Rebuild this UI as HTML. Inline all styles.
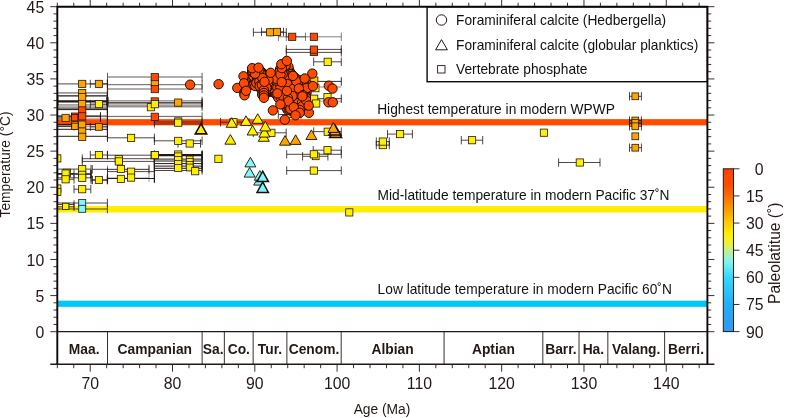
<!DOCTYPE html><html><head><meta charset="utf-8"><title>Cretaceous temperatures</title>
<style>html,body{margin:0;padding:0;background:#fff}body{width:785px;height:418px;overflow:hidden}svg{display:block}text{font-family:"Liberation Sans",Arial,Helvetica,sans-serif;fill:#231815}text.k{fill:#111}</style></head><body>
<svg width="785" height="418" viewBox="0 0 785 418">
<defs><linearGradient id="cb" x1="0" y1="0" x2="0" y2="1">
<stop offset="0.000" stop-color="#ff4500"/>
<stop offset="0.100" stop-color="#ff4a00"/>
<stop offset="0.167" stop-color="#f96c06"/>
<stop offset="0.250" stop-color="#fb9c00"/>
<stop offset="0.330" stop-color="#ffcc00"/>
<stop offset="0.400" stop-color="#fff000"/>
<stop offset="0.450" stop-color="#f0f030"/>
<stop offset="0.500" stop-color="#c4f08c"/>
<stop offset="0.570" stop-color="#80f4f0"/>
<stop offset="0.670" stop-color="#30d8ff"/>
<stop offset="0.830" stop-color="#20b0f8"/>
<stop offset="1.000" stop-color="#3098f8"/>
</linearGradient></defs>
<rect width="785" height="418" fill="#fff"/>
<g id="bands">
<rect x="57.3" y="119.15" width="650.1" height="6.2" fill="#ff4a00"/>
<rect x="57.3" y="206.10" width="650.1" height="6.4" fill="#ffee00"/>
<rect x="57.3" y="300.65" width="650.1" height="6.2" fill="#00c8f5"/>
</g>
<g id="data">
<clipPath id="pc"><rect x="57.30" y="6.70" width="650.10" height="325.00"/></clipPath>
<g clip-path="url(#pc)">
<path d="M57.3 83.9H107.4M57.3 79.7v8.4M107.4 79.7v8.4" stroke="#231815" stroke-width="0.80" fill="none"/>
<path d="M57.3 92.9H107.4M57.3 88.7v8.4M107.4 88.7v8.4" stroke="#231815" stroke-width="1.60" fill="none" stroke-opacity="0.45"/>
<path d="M57.3 95.9H107.4M57.3 91.7v8.4M107.4 91.7v8.4" stroke="#231815" stroke-width="1.10" fill="none"/>
<path d="M57.3 101.3H107.4M57.3 97.1v8.4M107.4 97.1v8.4" stroke="#231815" stroke-width="2.20" fill="none"/>
<path d="M57.3 104.7H107.4M57.3 100.5v8.4M107.4 100.5v8.4" stroke="#231815" stroke-width="0.80" fill="none" stroke-opacity="0.60"/>
<path d="M57.3 105.5H107.4M57.3 101.3v8.4M107.4 101.3v8.4" stroke="#231815" stroke-width="0.90" fill="none" stroke-opacity="0.25"/>
<path d="M57.3 106.3H107.4M57.3 102.1v8.4M107.4 102.1v8.4" stroke="#231815" stroke-width="0.90" fill="none" stroke-opacity="0.30"/>
<path d="M57.3 107.1H107.4M57.3 102.9v8.4M107.4 102.9v8.4" stroke="#231815" stroke-width="0.90" fill="none" stroke-opacity="0.40"/>
<path d="M57.3 107.9H107.4M57.3 103.7v8.4M107.4 103.7v8.4" stroke="#231815" stroke-width="0.90" fill="none" stroke-opacity="0.50"/>
<path d="M57.3 108.7H107.4M57.3 104.5v8.4M107.4 104.5v8.4" stroke="#231815" stroke-width="0.90" fill="none" stroke-opacity="0.70"/>
<path d="M57.3 109.6H107.4M57.3 105.4v8.4M107.4 105.4v8.4" stroke="#231815" stroke-width="1.00" fill="none"/>
<path d="M57.3 116.1H107.4M57.3 111.9v8.4M107.4 111.9v8.4" stroke="#231815" stroke-width="1.00" fill="none"/>
<path d="M57.3 118.2H107.4M57.3 114.0v8.4M107.4 114.0v8.4" stroke="#231815" stroke-width="0.80" fill="none" stroke-opacity="0.50"/>
<path d="M57.3 124.4H107.4M57.3 120.2v8.4M107.4 120.2v8.4" stroke="#231815" stroke-width="1.00" fill="none"/>
<path d="M57.3 126.7H107.4M57.3 122.5v8.4M107.4 122.5v8.4" stroke="#231815" stroke-width="0.80" fill="none" stroke-opacity="0.60"/>
<path d="M57.3 129.3H107.4M57.3 125.1v8.4M107.4 125.1v8.4" stroke="#231815" stroke-width="1.00" fill="none"/>
<path d="M57.3 136.3H107.4M57.3 132.1v8.4M107.4 132.1v8.4" stroke="#231815" stroke-width="1.00" fill="none"/>
<path d="M90.3 83.9H107.4M90.3 79.7v8.4M107.4 79.7v8.4" stroke="#231815" stroke-width="0.80" fill="none"/>
<path d="M90.3 104.1H107.4M90.3 99.9v8.4M107.4 99.9v8.4" stroke="#231815" stroke-width="0.80" fill="none"/>
<path d="M90.3 126.9H107.4M90.3 122.7v8.4M107.4 122.7v8.4" stroke="#231815" stroke-width="0.80" fill="none"/>
<path d="M90.3 155.0H107.4M90.3 150.8v8.4M107.4 150.8v8.4" stroke="#231815" stroke-width="0.80" fill="none"/>
<path d="M92.3 180.0H107.4M92.3 175.8v8.4M107.4 175.8v8.4" stroke="#231815" stroke-width="1.00" fill="none"/>
<path d="M91.0 180.0H107.4M91.0 175.8v8.4M107.4 175.8v8.4" stroke="#231815" stroke-width="0.70" fill="none"/>
<path d="M57.3 116.2H100.5M57.3 112.0v8.4M100.5 112.0v8.4" stroke="#231815" stroke-width="0.80" fill="none"/>
<path d="M100.4 117.7H100.5M100.4 113.5v8.4M100.5 113.5v8.4" stroke="#231815" stroke-width="0.80" fill="none"/>
<path d="M57.3 117.9H74.0M57.3 113.7v8.4M74.0 113.7v8.4" stroke="#231815" stroke-width="0.80" fill="none"/>
<path d="M57.3 125.0H74.0M57.3 120.8v8.4M74.0 120.8v8.4" stroke="#231815" stroke-width="0.80" fill="none"/>
<path d="M57.3 126.4H74.0M57.3 122.2v8.4M74.0 122.2v8.4" stroke="#231815" stroke-width="0.80" fill="none"/>
<path d="M82.3 158.7H154.4M82.3 154.5v8.4M154.4 154.5v8.4" stroke="#231815" stroke-width="0.80" fill="none"/>
<path d="M82.3 161.4H154.4M82.3 157.2v8.4M154.4 157.2v8.4" stroke="#231815" stroke-width="0.80" fill="none"/>
<path d="M57.3 174.0H91.0M57.3 169.8v8.4M91.0 169.8v8.4" stroke="#231815" stroke-width="1.60" fill="none"/>
<path d="M57.3 169.1H91.0M57.3 164.9v8.4M91.0 164.9v8.4" stroke="#231815" stroke-width="0.80" fill="none"/>
<path d="M57.3 177.8H91.0M57.3 173.6v8.4M91.0 173.6v8.4" stroke="#231815" stroke-width="0.80" fill="none"/>
<path d="M57.3 173.5H74.0M57.3 169.3v8.4M74.0 169.3v8.4" stroke="#231815" stroke-width="0.80" fill="none"/>
<path d="M57.3 179.3H74.0M57.3 175.1v8.4M74.0 175.1v8.4" stroke="#231815" stroke-width="0.80" fill="none"/>
<path d="M92.3 169.3H149.0M92.3 165.1v8.4M149.0 165.1v8.4" stroke="#231815" stroke-width="0.80" fill="none"/>
<path d="M74.0 189.2H90.8M74.0 185.0v8.4M90.8 185.0v8.4" stroke="#231815" stroke-width="0.80" fill="none"/>
<path d="M57.3 203.0H107.4M57.3 198.8v8.4M107.4 198.8v8.4" stroke="#231815" stroke-width="0.80" fill="none"/>
<path d="M57.3 209.0H107.4M57.3 204.8v8.4M107.4 204.8v8.4" stroke="#231815" stroke-width="0.80" fill="none"/>
<path d="M57.3 204.5H74.0M57.3 200.3v8.4M74.0 200.3v8.4" stroke="#231815" stroke-width="0.80" fill="none"/>
<path d="M57.3 206.8H74.0M57.3 202.6v8.4M74.0 202.6v8.4" stroke="#231815" stroke-width="0.80" fill="none"/>
<path d="M107.5 77.0H202.1M107.5 72.8v8.4M202.1 72.8v8.4" stroke="#231815" stroke-width="0.70" fill="none"/>
<path d="M107.5 84.7H202.1M107.5 80.5v8.4M202.1 80.5v8.4" stroke="#231815" stroke-width="0.70" fill="none"/>
<path d="M107.5 89.0H202.1M107.5 84.8v8.4M202.1 84.8v8.4" stroke="#231815" stroke-width="0.70" fill="none"/>
<path d="M107.5 100.9H202.1M107.5 96.7v8.4M202.1 96.7v8.4" stroke="#231815" stroke-width="0.70" fill="none"/>
<path d="M107.5 102.8H202.1M107.5 98.6v8.4M202.1 98.6v8.4" stroke="#231815" stroke-width="1.20" fill="none"/>
<path d="M107.5 105.1H202.1M107.5 100.9v8.4M202.1 100.9v8.4" stroke="#231815" stroke-width="0.70" fill="none"/>
<path d="M107.5 106.8H202.1M107.5 102.6v8.4M202.1 102.6v8.4" stroke="#231815" stroke-width="0.70" fill="none"/>
<path d="M107.5 116.4H202.1M107.5 112.2v8.4M202.1 112.2v8.4" stroke="#231815" stroke-width="0.70" fill="none"/>
<path d="M107.5 137.8H154.4M107.5 133.6v8.4M154.4 133.6v8.4" stroke="#231815" stroke-width="0.80" fill="none"/>
<path d="M154.4 121.3H202.1M154.4 117.1v8.4M202.1 117.1v8.4" stroke="#231815" stroke-width="0.60" fill="none" stroke-opacity="0.85"/>
<path d="M154.4 122.8H202.1M154.4 118.6v8.4M202.1 118.6v8.4" stroke="#231815" stroke-width="0.60" fill="none" stroke-opacity="0.85"/>
<path d="M154.4 124.1H202.1M154.4 119.9v8.4M202.1 119.9v8.4" stroke="#231815" stroke-width="0.60" fill="none" stroke-opacity="0.85"/>
<path d="M154.4 140.8H202.1M154.4 136.6v8.4M202.1 136.6v8.4" stroke="#231815" stroke-width="0.80" fill="none"/>
<path d="M178.0 143.5H200.5M178.0 139.3v8.4M200.5 139.3v8.4" stroke="#231815" stroke-width="0.80" fill="none"/>
<path d="M107.5 155.2H202.1M107.5 151.0v8.4M202.1 151.0v8.4" stroke="#231815" stroke-width="0.80" fill="none"/>
<path d="M154.4 154.6H202.1M154.4 150.4v8.4M202.1 150.4v8.4" stroke="#231815" stroke-width="1.20" fill="none"/>
<path d="M154.4 155.6H202.1M154.4 151.4v8.4M202.1 151.4v8.4" stroke="#231815" stroke-width="1.20" fill="none"/>
<path d="M154.4 159.1H202.1M154.4 154.9v8.4M202.1 154.9v8.4" stroke="#231815" stroke-width="1.00" fill="none"/>
<path d="M154.4 161.0H202.1M154.4 156.8v8.4M202.1 156.8v8.4" stroke="#231815" stroke-width="1.00" fill="none"/>
<path d="M154.4 163.6H202.1M154.4 159.4v8.4M202.1 159.4v8.4" stroke="#231815" stroke-width="1.00" fill="none"/>
<path d="M154.4 166.1H202.1M154.4 161.9v8.4M202.1 161.9v8.4" stroke="#231815" stroke-width="1.00" fill="none"/>
<path d="M154.4 168.3H202.1M154.4 164.1v8.4M202.1 164.1v8.4" stroke="#231815" stroke-width="1.00" fill="none"/>
<path d="M154.4 170.5H202.1M154.4 166.3v8.4M202.1 166.3v8.4" stroke="#231815" stroke-width="0.80" fill="none"/>
<path d="M107.5 171.6H154.4M107.5 167.4v8.4M154.4 167.4v8.4" stroke="#231815" stroke-width="0.80" fill="none"/>
<path d="M107.5 178.5H154.4M107.5 174.3v8.4M154.4 174.3v8.4" stroke="#231815" stroke-width="1.20" fill="none"/>
<path d="M107.5 178.0H149.0M107.5 173.8v8.4M149.0 173.8v8.4" stroke="#231815" stroke-width="0.70" fill="none" stroke-opacity="0.60"/>
<path d="M107.5 169.6H149.0M107.5 165.4v8.4M149.0 165.4v8.4" stroke="#231815" stroke-width="0.70" fill="none" stroke-opacity="0.60"/>
<rect x="78.6" y="80.3" width="7.2" height="7.2" fill="#ffa500" stroke="#231815" stroke-width="0.8"/>
<rect x="95.3" y="80.3" width="7.2" height="7.2" fill="#ffa500" stroke="#231815" stroke-width="0.8"/>
<rect x="78.6" y="89.5" width="7.2" height="7.2" fill="#ffa500" stroke="#231815" stroke-width="0.8"/>
<rect x="78.6" y="93.4" width="7.2" height="7.2" fill="#ffa500" stroke="#231815" stroke-width="0.8"/>
<rect x="78.6" y="100.3" width="7.2" height="7.2" fill="#ffa500" stroke="#231815" stroke-width="0.8"/>
<rect x="78.6" y="106.8" width="7.2" height="7.2" fill="#ff4a00" stroke="#231815" stroke-width="0.8"/>
<rect x="78.6" y="112.7" width="7.2" height="7.2" fill="#ff4a00" stroke="#231815" stroke-width="0.8"/>
<rect x="78.6" y="121.0" width="7.2" height="7.2" fill="#ffa500" stroke="#231815" stroke-width="0.8"/>
<rect x="78.6" y="127.9" width="7.2" height="7.2" fill="#ffa500" stroke="#231815" stroke-width="0.8"/>
<rect x="78.6" y="133.2" width="7.2" height="7.2" fill="#ffa500" stroke="#231815" stroke-width="0.8"/>
<rect x="95.3" y="100.5" width="7.2" height="7.2" fill="#fff000" stroke="#231815" stroke-width="0.8"/>
<rect x="95.5" y="123.5" width="6.8" height="6.8" fill="#ffa500" stroke="#231815" stroke-width="0.8"/>
<rect x="95.3" y="151.4" width="7.2" height="7.2" fill="#fff000" stroke="#231815" stroke-width="0.8"/>
<rect x="95.3" y="176.4" width="7.2" height="7.2" fill="#fff000" stroke="#231815" stroke-width="0.8"/>
<rect x="62.0" y="114.3" width="7.2" height="7.2" fill="#ffa500" stroke="#231815" stroke-width="0.8"/>
<rect x="71.5" y="113.0" width="6.4" height="6.4" fill="#ff4a00" stroke="#231815" stroke-width="0.8"/>
<rect x="71.5" y="114.5" width="6.4" height="6.4" fill="#ff4a00" stroke="#231815" stroke-width="0.8"/>
<rect x="71.7" y="121.7" width="6.4" height="6.4" fill="#ffa500" stroke="#231815" stroke-width="0.8"/>
<rect x="71.7" y="123.2" width="6.4" height="6.4" fill="#ffa500" stroke="#231815" stroke-width="0.8"/>
<rect x="53.7" y="154.8" width="7.2" height="7.2" fill="#fff000" stroke="#231815" stroke-width="0.8"/>
<rect x="78.6" y="165.5" width="7.2" height="7.2" fill="#fff000" stroke="#231815" stroke-width="0.8"/>
<rect x="78.6" y="171.2" width="7.2" height="7.2" fill="#fff000" stroke="#231815" stroke-width="0.8"/>
<rect x="78.6" y="174.2" width="7.2" height="7.2" fill="#fff000" stroke="#231815" stroke-width="0.8"/>
<rect x="63.4" y="169.2" width="7.2" height="7.2" fill="#fff000" stroke="#231815" stroke-width="0.8"/>
<rect x="62.0" y="169.9" width="7.2" height="7.2" fill="#fff000" stroke="#231815" stroke-width="0.8"/>
<rect x="62.0" y="175.7" width="7.2" height="7.2" fill="#fff000" stroke="#231815" stroke-width="0.8"/>
<rect x="78.6" y="185.6" width="7.2" height="7.2" fill="#fff000" stroke="#231815" stroke-width="0.8"/>
<rect x="53.7" y="184.9" width="7.2" height="7.2" fill="#fff000" stroke="#231815" stroke-width="0.8"/>
<rect x="53.7" y="188.4" width="7.2" height="7.2" fill="#fff000" stroke="#231815" stroke-width="0.8"/>
<rect x="78.7" y="199.4" width="7.0" height="7.0" fill="#7df9ff" stroke="#231815" stroke-width="0.8"/>
<rect x="78.7" y="205.3" width="7.0" height="7.0" fill="#7df9ff" stroke="#231815" stroke-width="0.8"/>
<rect x="62.7" y="203.4" width="6.0" height="6.0" fill="#fff000" stroke="#231815" stroke-width="0.8"/>
<rect x="62.5" y="203.2" width="6.4" height="6.4" fill="#fff000" stroke="#231815" stroke-width="0.8"/>
<rect x="151.2" y="79.4" width="7.2" height="7.2" fill="#ffa500" stroke="#231815" stroke-width="0.8"/>
<rect x="151.2" y="73.5" width="7.2" height="7.2" fill="#ff4a00" stroke="#231815" stroke-width="0.8"/>
<rect x="151.2" y="85.5" width="7.2" height="7.2" fill="#ff4a00" stroke="#231815" stroke-width="0.8"/>
<circle cx="190.1" cy="84.7" r="4.7" fill="#ff4a00" stroke="#1a0d08" stroke-width="1.0"/>
<rect x="151.2" y="97.8" width="7.2" height="7.2" fill="#ff4a00" stroke="#231815" stroke-width="0.8"/>
<rect x="147.3" y="103.6" width="7.2" height="7.2" fill="#fff000" stroke="#231815" stroke-width="0.8"/>
<rect x="151.2" y="100.6" width="7.2" height="7.2" fill="#fff000" stroke="#231815" stroke-width="0.8"/>
<rect x="174.6" y="99.0" width="7.2" height="7.2" fill="#ffa500" stroke="#231815" stroke-width="0.8"/>
<rect x="151.2" y="113.2" width="7.2" height="7.2" fill="#ff4a00" stroke="#231815" stroke-width="0.8"/>
<rect x="174.6" y="117.8" width="7.2" height="7.2" fill="#fff000" stroke="#231815" stroke-width="0.8"/>
<rect x="174.6" y="119.1" width="7.2" height="7.2" fill="#fff000" stroke="#231815" stroke-width="0.8"/>
<rect x="127.5" y="134.3" width="7.2" height="7.2" fill="#fff000" stroke="#231815" stroke-width="0.8"/>
<rect x="174.6" y="137.3" width="7.2" height="7.2" fill="#fff000" stroke="#231815" stroke-width="0.8"/>
<rect x="186.1" y="139.9" width="7.2" height="7.2" fill="#fff000" stroke="#231815" stroke-width="0.8"/>
<rect x="151.0" y="151.6" width="7.2" height="7.2" fill="#fff000" stroke="#231815" stroke-width="0.8"/>
<rect x="151.3" y="151.4" width="7.2" height="7.2" fill="#fff000" stroke="#231815" stroke-width="0.8"/>
<rect x="174.6" y="150.9" width="7.2" height="7.2" fill="#fff000" stroke="#231815" stroke-width="0.8"/>
<rect x="174.6" y="152.9" width="7.2" height="7.2" fill="#fff000" stroke="#231815" stroke-width="0.8"/>
<rect x="174.6" y="156.4" width="7.2" height="7.2" fill="#fff000" stroke="#231815" stroke-width="0.8"/>
<rect x="174.6" y="160.4" width="7.2" height="7.2" fill="#fff000" stroke="#231815" stroke-width="0.8"/>
<rect x="174.6" y="164.4" width="7.2" height="7.2" fill="#fff000" stroke="#231815" stroke-width="0.8"/>
<rect x="186.3" y="156.1" width="6.8" height="6.8" fill="#fff000" stroke="#231815" stroke-width="0.8"/>
<rect x="186.3" y="158.6" width="6.8" height="6.8" fill="#fff000" stroke="#231815" stroke-width="0.8"/>
<rect x="186.3" y="161.6" width="6.8" height="6.8" fill="#fff000" stroke="#231815" stroke-width="0.8"/>
<rect x="186.3" y="164.1" width="6.8" height="6.8" fill="#fff000" stroke="#231815" stroke-width="0.8"/>
<rect x="191.6" y="167.6" width="7.2" height="7.2" fill="#fff000" stroke="#231815" stroke-width="0.8"/>
<rect x="115.2" y="155.6" width="7.2" height="7.2" fill="#fff000" stroke="#231815" stroke-width="0.8"/>
<rect x="115.2" y="157.8" width="7.2" height="7.2" fill="#fff000" stroke="#231815" stroke-width="0.8"/>
<rect x="117.3" y="165.4" width="7.2" height="7.2" fill="#fff000" stroke="#231815" stroke-width="0.8"/>
<rect x="117.3" y="175.3" width="7.2" height="7.2" fill="#fff000" stroke="#231815" stroke-width="0.8"/>
<rect x="127.5" y="168.1" width="7.2" height="7.2" fill="#fff000" stroke="#231815" stroke-width="0.8"/>
<rect x="127.5" y="174.0" width="7.2" height="7.2" fill="#fff000" stroke="#231815" stroke-width="0.8"/>
<path d="M201.0 123.7L206.7 133.9H195.3Z" fill="#fff000" stroke="#1a0d08" stroke-width="1.6" stroke-linejoin="miter"/>
<path d="M220.5 122.2H249.0M220.5 118.0v8.4M249.0 118.0v8.4" stroke="#231815" stroke-width="0.80" fill="none"/>
<path d="M253.3 132.8H286.2M253.3 128.6v8.4M286.2 128.6v8.4" stroke="#231815" stroke-width="0.80" fill="none"/>
<path d="M253.4 32.3H286.3M253.4 28.1v8.4M286.3 28.1v8.4" stroke="#231815" stroke-width="0.80" fill="none"/>
<path d="M261.5 31.9H283.5M261.5 27.7v8.4M283.5 27.7v8.4" stroke="#231815" stroke-width="0.80" fill="none"/>
<path d="M270.5 32.1H280.0M270.5 27.9v8.4M280.0 27.9v8.4" stroke="#231815" stroke-width="0.80" fill="none"/>
<path d="M278.4 36.8H305.5M278.4 32.6v8.4M305.5 32.6v8.4" stroke="#231815" stroke-width="0.80" fill="none" stroke-opacity="0.70"/>
<path d="M286.3 36.8H341.3M286.3 32.6v8.4M341.3 32.6v8.4" stroke="#231815" stroke-width="0.80" fill="none" stroke-opacity="0.70"/>
<path d="M286.3 49.4H341.3M286.3 45.2v8.4M341.3 45.2v8.4" stroke="#231815" stroke-width="0.80" fill="none"/>
<path d="M286.3 52.4H341.3M286.3 48.2v8.4M341.3 48.2v8.4" stroke="#231815" stroke-width="0.80" fill="none"/>
<path d="M313.7 61.8H341.3M313.7 57.6v8.4M341.3 57.6v8.4" stroke="#231815" stroke-width="0.80" fill="none"/>
<path d="M300.0 81.4H341.3M300.0 77.2v8.4M341.3 77.2v8.4" stroke="#231815" stroke-width="0.90" fill="none"/>
<path d="M300.0 86.9H341.3" stroke="#231815" stroke-width="1.50" fill="none" stroke-opacity="0.35"/>
<path d="M300.0 98.7H341.3M300.0 94.5v8.4M341.3 94.5v8.4" stroke="#231815" stroke-width="0.90" fill="none"/>
<path d="M300.0 101.2H341.3" stroke="#231815" stroke-width="0.90" fill="none" stroke-opacity="0.40"/>
<path d="M278.3 114.5H301.0M278.3 110.3v8.4M301.0 110.3v8.4" stroke="#231815" stroke-width="0.80" fill="none"/>
<path d="M313.7 131.6H341.3M313.7 127.4v8.4M341.3 127.4v8.4" stroke="#231815" stroke-width="0.80" fill="none"/>
<path d="M313.2 150.2H341.3M313.2 146.0v8.4M341.3 146.0v8.4" stroke="#231815" stroke-width="0.80" fill="none"/>
<path d="M286.7 154.3H341.3M286.7 150.1v8.4M341.3 150.1v8.4" stroke="#231815" stroke-width="0.80" fill="none"/>
<path d="M302.6 156.3H327.9M302.6 152.1v8.4M327.9 152.1v8.4" stroke="#231815" stroke-width="0.80" fill="none"/>
<path d="M286.7 170.6H341.3M286.7 166.4v8.4M341.3 166.4v8.4" stroke="#231815" stroke-width="0.80" fill="none"/>
<path d="M387.5 134.1H412.4M387.5 129.9v8.4M412.4 129.9v8.4" stroke="#231815" stroke-width="0.80" fill="none"/>
<path d="M376.3 141.6H389.3M376.3 137.4v8.4M389.3 137.4v8.4" stroke="#231815" stroke-width="0.80" fill="none"/>
<path d="M376.3 145.1H389.3M376.3 140.9v8.4M389.3 140.9v8.4" stroke="#231815" stroke-width="0.80" fill="none"/>
<path d="M461.3 140.2H482.7M461.3 136.0v8.4M482.7 136.0v8.4" stroke="#231815" stroke-width="0.80" fill="none"/>
<path d="M558.6 162.5H600.0M558.6 158.3v8.4M600.0 158.3v8.4" stroke="#231815" stroke-width="0.80" fill="none"/>
<path d="M629.5 96.3H641.4M629.5 92.1v8.4M641.4 92.1v8.4" stroke="#231815" stroke-width="0.80" fill="none"/>
<path d="M629.5 120.5H641.4M629.5 116.3v8.4M641.4 116.3v8.4" stroke="#231815" stroke-width="0.80" fill="none"/>
<path d="M629.5 123.0H641.4M629.5 118.8v8.4M641.4 118.8v8.4" stroke="#231815" stroke-width="0.80" fill="none"/>
<path d="M629.5 126.3H641.4M629.5 122.1v8.4M641.4 122.1v8.4" stroke="#231815" stroke-width="0.80" fill="none"/>
<path d="M629.5 147.7H641.4M629.5 143.5v8.4M641.4 143.5v8.4" stroke="#231815" stroke-width="0.80" fill="none"/>
<rect x="214.8" y="155.2" width="7.2" height="7.2" fill="#fff000" stroke="#231815" stroke-width="0.8"/>
<rect x="229.8" y="118.6" width="7.2" height="7.2" fill="#fff000" stroke="#231815" stroke-width="0.8"/>
<rect x="267.8" y="129.2" width="7.2" height="7.2" fill="#fff000" stroke="#231815" stroke-width="0.8"/>
<rect x="266.6" y="28.7" width="7.2" height="7.2" fill="#ffa500" stroke="#231815" stroke-width="0.8"/>
<rect x="273.4" y="28.3" width="7.2" height="7.2" fill="#ffa500" stroke="#231815" stroke-width="0.8"/>
<rect x="288.6" y="33.2" width="7.2" height="7.2" fill="#ff4a00" stroke="#231815" stroke-width="0.8"/>
<rect x="310.3" y="33.2" width="7.2" height="7.2" fill="#ff4a00" stroke="#231815" stroke-width="0.8"/>
<rect x="310.3" y="48.4" width="7.2" height="7.2" fill="#ff4a00" stroke="#231815" stroke-width="0.8"/>
<rect x="310.3" y="46.0" width="7.2" height="7.2" fill="#ff4a00" stroke="#231815" stroke-width="0.8"/>
<rect x="324.1" y="58.2" width="7.2" height="7.2" fill="#fff000" stroke="#231815" stroke-width="0.8"/>
<rect x="310.7" y="77.0" width="7.2" height="7.2" fill="#ffc400" stroke="#231815" stroke-width="0.8"/>
<rect x="311.8" y="84.6" width="7.2" height="7.2" fill="#fff000" stroke="#231815" stroke-width="0.8"/>
<rect x="310.6" y="95.1" width="7.2" height="7.2" fill="#fff000" stroke="#231815" stroke-width="0.8"/>
<rect x="312.6" y="99.9" width="7.2" height="7.2" fill="#fff000" stroke="#231815" stroke-width="0.8"/>
<rect x="323.9" y="93.6" width="7.2" height="7.2" fill="#fff000" stroke="#231815" stroke-width="0.8"/>
<rect x="286.5" y="111.3" width="6.4" height="6.4" fill="#fff000" stroke="#231815" stroke-width="0.8"/>
<rect x="324.1" y="128.1" width="7.2" height="7.2" fill="#fff000" stroke="#231815" stroke-width="0.8"/>
<rect x="312.3" y="152.9" width="6.8" height="6.8" fill="#fff000" stroke="#231815" stroke-width="0.8"/>
<rect x="310.2" y="150.7" width="7.2" height="7.2" fill="#fff000" stroke="#231815" stroke-width="0.8"/>
<rect x="323.9" y="146.6" width="7.2" height="7.2" fill="#fff000" stroke="#231815" stroke-width="0.8"/>
<rect x="310.2" y="167.0" width="7.2" height="7.2" fill="#fff000" stroke="#231815" stroke-width="0.8"/>
<rect x="345.7" y="208.8" width="7.2" height="7.2" fill="#fff000" stroke="#231815" stroke-width="0.8"/>
<rect x="396.5" y="130.5" width="7.2" height="7.2" fill="#fff000" stroke="#231815" stroke-width="0.8"/>
<rect x="379.2" y="141.5" width="7.2" height="7.2" fill="#fff000" stroke="#231815" stroke-width="0.8"/>
<rect x="379.2" y="138.0" width="7.2" height="7.2" fill="#fff000" stroke="#231815" stroke-width="0.8"/>
<rect x="468.5" y="136.6" width="7.2" height="7.2" fill="#fff000" stroke="#231815" stroke-width="0.8"/>
<rect x="540.3" y="129.1" width="7.2" height="7.2" fill="#fff000" stroke="#231815" stroke-width="0.8"/>
<rect x="576.2" y="158.9" width="7.2" height="7.2" fill="#fff000" stroke="#231815" stroke-width="0.8"/>
<rect x="631.9" y="92.9" width="6.8" height="6.8" fill="#ffa500" stroke="#231815" stroke-width="0.8"/>
<rect x="631.9" y="117.1" width="6.8" height="6.8" fill="#ffa500" stroke="#231815" stroke-width="0.8"/>
<rect x="631.9" y="119.6" width="6.8" height="6.8" fill="#ffa500" stroke="#231815" stroke-width="0.8"/>
<rect x="631.9" y="122.9" width="6.8" height="6.8" fill="#ffa500" stroke="#231815" stroke-width="0.8"/>
<rect x="631.9" y="132.9" width="6.8" height="6.8" fill="#ffa500" stroke="#231815" stroke-width="0.8"/>
<rect x="631.9" y="144.3" width="6.8" height="6.8" fill="#ffa500" stroke="#231815" stroke-width="0.8"/>
<path d="M230.4 134.6L235.9 144.2H224.9Z" fill="#fff000" stroke="#1a0d08" stroke-width="0.9" stroke-linejoin="miter"/>
<path d="M231.7 117.7L237.2 127.3H226.2Z" fill="#fff000" stroke="#1a0d08" stroke-width="0.9" stroke-linejoin="miter"/>
<path d="M246.0 115.8L251.5 125.4H240.5Z" fill="#fff000" stroke="#1a0d08" stroke-width="0.9" stroke-linejoin="miter"/>
<path d="M257.7 113.7L263.2 123.3H252.2Z" fill="#fff000" stroke="#1a0d08" stroke-width="0.9" stroke-linejoin="miter"/>
<path d="M252.6 125.4L258.1 135.0H247.1Z" fill="#fff000" stroke="#1a0d08" stroke-width="0.9" stroke-linejoin="miter"/>
<path d="M263.8 131.7L269.3 141.3H258.3Z" fill="#fff000" stroke="#1a0d08" stroke-width="0.9" stroke-linejoin="miter"/>
<path d="M264.4 127.5L269.9 137.1H258.9Z" fill="#fff000" stroke="#1a0d08" stroke-width="0.9" stroke-linejoin="miter"/>
<path d="M265.3 121.3L270.8 130.9H259.8Z" fill="#fff000" stroke="#1a0d08" stroke-width="0.9" stroke-linejoin="miter"/>
<path d="M285.0 135.6L290.5 145.2H279.5Z" fill="#ffa500" stroke="#1a0d08" stroke-width="0.9" stroke-linejoin="miter"/>
<path d="M295.6 134.8L301.1 144.4H290.1Z" fill="#ffa500" stroke="#1a0d08" stroke-width="0.9" stroke-linejoin="miter"/>
<path d="M311.4 129.9L316.9 139.5H305.9Z" fill="#ffa500" stroke="#1a0d08" stroke-width="0.9" stroke-linejoin="miter"/>
<path d="M335.6 127.3L341.6 137.5H329.6Z" fill="#ffa500" stroke="#1a0d08" stroke-width="1.5" stroke-linejoin="miter"/>
<path d="M335.0 125.0L341.0 135.1H329.0Z" fill="#ffa500" stroke="#1a0d08" stroke-width="1.5" stroke-linejoin="miter"/>
<path d="M333.3 122.5L338.6 132.4H328.0Z" fill="#ffa500" stroke="#1a0d08" stroke-width="1.0" stroke-linejoin="miter"/>
<path d="M250.4 157.3L255.9 166.9H244.9Z" fill="#7df9ff" stroke="#1a0d08" stroke-width="0.9" stroke-linejoin="miter"/>
<path d="M249.6 167.5L255.1 177.1H244.1Z" fill="#7df9ff" stroke="#1a0d08" stroke-width="0.9" stroke-linejoin="miter"/>
<path d="M259.2 175.5L264.7 185.1H253.7Z" fill="#7df9ff" stroke="#1a0d08" stroke-width="0.9" stroke-linejoin="miter"/>
<path d="M259.8 170.6L265.3 180.2H254.3Z" fill="#7df9ff" stroke="#1a0d08" stroke-width="0.9" stroke-linejoin="miter"/>
<path d="M262.7 171.2L268.4 181.6H257.0Z" fill="#7df9ff" stroke="#1a0d08" stroke-width="1.5" stroke-linejoin="miter"/>
<path d="M262.7 182.0L268.4 192.4H257.0Z" fill="#7df9ff" stroke="#1a0d08" stroke-width="1.5" stroke-linejoin="miter"/>
<circle cx="218.6" cy="84.2" r="4.7" fill="#ff4a00" stroke="#1a0d08" stroke-width="1.0"/>
<circle cx="266.6" cy="79.7" r="4.7" fill="#ff4a00" stroke="#1a0d08" stroke-width="1.0"/>
<circle cx="288.2" cy="82.3" r="4.7" fill="#ff4a00" stroke="#1a0d08" stroke-width="1.0"/>
<circle cx="304.2" cy="102.2" r="4.7" fill="#ff4a00" stroke="#1a0d08" stroke-width="1.0"/>
<circle cx="256.4" cy="71.1" r="4.7" fill="#ff4a00" stroke="#1a0d08" stroke-width="1.0"/>
<circle cx="284.6" cy="93.9" r="4.7" fill="#ff4a00" stroke="#1a0d08" stroke-width="1.0"/>
<circle cx="290.0" cy="91.2" r="4.7" fill="#ff4a00" stroke="#1a0d08" stroke-width="1.0"/>
<circle cx="291.2" cy="87.3" r="4.7" fill="#ff4a00" stroke="#1a0d08" stroke-width="1.0"/>
<circle cx="279.4" cy="74.5" r="4.7" fill="#ff4a00" stroke="#1a0d08" stroke-width="1.0"/>
<circle cx="290.7" cy="104.1" r="4.7" fill="#ff4a00" stroke="#1a0d08" stroke-width="1.0"/>
<circle cx="289.0" cy="80.5" r="4.7" fill="#ff4a00" stroke="#1a0d08" stroke-width="1.0"/>
<circle cx="293.8" cy="80.3" r="4.7" fill="#ff4a00" stroke="#1a0d08" stroke-width="1.0"/>
<circle cx="301.8" cy="92.5" r="4.7" fill="#ff4a00" stroke="#1a0d08" stroke-width="1.0"/>
<circle cx="294.0" cy="103.6" r="4.7" fill="#ff4a00" stroke="#1a0d08" stroke-width="1.0"/>
<circle cx="301.6" cy="87.2" r="4.7" fill="#ff4a00" stroke="#1a0d08" stroke-width="1.0"/>
<circle cx="278.6" cy="86.6" r="4.7" fill="#ff4a00" stroke="#1a0d08" stroke-width="1.0"/>
<circle cx="286.3" cy="96.8" r="4.7" fill="#ff4a00" stroke="#1a0d08" stroke-width="1.0"/>
<circle cx="291.1" cy="78.3" r="4.7" fill="#ff4a00" stroke="#1a0d08" stroke-width="1.0"/>
<circle cx="287.6" cy="99.7" r="4.7" fill="#ff4a00" stroke="#1a0d08" stroke-width="1.0"/>
<circle cx="256.9" cy="74.8" r="4.7" fill="#ff4a00" stroke="#1a0d08" stroke-width="1.0"/>
<circle cx="287.7" cy="93.7" r="4.7" fill="#ff4a00" stroke="#1a0d08" stroke-width="1.0"/>
<circle cx="292.2" cy="104.4" r="4.7" fill="#ff4a00" stroke="#1a0d08" stroke-width="1.0"/>
<circle cx="290.8" cy="83.5" r="4.7" fill="#ff4a00" stroke="#1a0d08" stroke-width="1.0"/>
<circle cx="283.9" cy="74.8" r="4.7" fill="#ff4a00" stroke="#1a0d08" stroke-width="1.0"/>
<circle cx="301.5" cy="81.9" r="4.7" fill="#ff4a00" stroke="#1a0d08" stroke-width="1.0"/>
<circle cx="280.2" cy="93.1" r="4.7" fill="#ff4a00" stroke="#1a0d08" stroke-width="1.0"/>
<circle cx="294.4" cy="99.6" r="4.7" fill="#ff4a00" stroke="#1a0d08" stroke-width="1.0"/>
<circle cx="263.9" cy="77.2" r="4.7" fill="#ff4a00" stroke="#1a0d08" stroke-width="1.0"/>
<circle cx="297.8" cy="113.0" r="4.7" fill="#ff4a00" stroke="#1a0d08" stroke-width="1.0"/>
<circle cx="281.6" cy="98.7" r="4.7" fill="#ff4a00" stroke="#1a0d08" stroke-width="1.0"/>
<circle cx="291.5" cy="81.2" r="4.7" fill="#ff4a00" stroke="#1a0d08" stroke-width="1.0"/>
<circle cx="256.3" cy="73.4" r="4.7" fill="#ff4a00" stroke="#1a0d08" stroke-width="1.0"/>
<circle cx="291.2" cy="99.7" r="4.7" fill="#ff4a00" stroke="#1a0d08" stroke-width="1.0"/>
<circle cx="305.7" cy="105.6" r="4.7" fill="#ff4a00" stroke="#1a0d08" stroke-width="1.0"/>
<circle cx="297.5" cy="95.3" r="4.7" fill="#ff4a00" stroke="#1a0d08" stroke-width="1.0"/>
<circle cx="303.9" cy="95.7" r="4.7" fill="#ff4a00" stroke="#1a0d08" stroke-width="1.0"/>
<circle cx="294.5" cy="105.4" r="4.7" fill="#ff4a00" stroke="#1a0d08" stroke-width="1.0"/>
<circle cx="300.4" cy="91.2" r="4.7" fill="#ff4a00" stroke="#1a0d08" stroke-width="1.0"/>
<circle cx="257.7" cy="76.1" r="4.7" fill="#ff4a00" stroke="#1a0d08" stroke-width="1.0"/>
<circle cx="262.9" cy="94.7" r="4.7" fill="#ff4a00" stroke="#1a0d08" stroke-width="1.0"/>
<circle cx="292.3" cy="93.2" r="4.7" fill="#ff4a00" stroke="#1a0d08" stroke-width="1.0"/>
<circle cx="282.0" cy="80.9" r="4.7" fill="#ff4a00" stroke="#1a0d08" stroke-width="1.0"/>
<circle cx="284.5" cy="74.6" r="4.7" fill="#ff4a00" stroke="#1a0d08" stroke-width="1.0"/>
<circle cx="255.5" cy="75.8" r="4.7" fill="#ff4a00" stroke="#1a0d08" stroke-width="1.0"/>
<circle cx="258.3" cy="74.7" r="4.7" fill="#ff4a00" stroke="#1a0d08" stroke-width="1.0"/>
<circle cx="285.1" cy="105.9" r="4.7" fill="#ff4a00" stroke="#1a0d08" stroke-width="1.0"/>
<circle cx="282.0" cy="79.3" r="4.7" fill="#ff4a00" stroke="#1a0d08" stroke-width="1.0"/>
<circle cx="297.9" cy="99.2" r="4.7" fill="#ff4a00" stroke="#1a0d08" stroke-width="1.0"/>
<circle cx="293.4" cy="90.2" r="4.7" fill="#ff4a00" stroke="#1a0d08" stroke-width="1.0"/>
<circle cx="285.1" cy="72.2" r="4.7" fill="#ff4a00" stroke="#1a0d08" stroke-width="1.0"/>
<circle cx="292.2" cy="97.7" r="4.7" fill="#ff4a00" stroke="#1a0d08" stroke-width="1.0"/>
<circle cx="269.3" cy="83.8" r="4.7" fill="#ff4a00" stroke="#1a0d08" stroke-width="1.0"/>
<circle cx="292.5" cy="85.7" r="4.7" fill="#ff4a00" stroke="#1a0d08" stroke-width="1.0"/>
<circle cx="296.5" cy="100.3" r="4.7" fill="#ff4a00" stroke="#1a0d08" stroke-width="1.0"/>
<circle cx="273.5" cy="85.6" r="4.7" fill="#ff4a00" stroke="#1a0d08" stroke-width="1.0"/>
<circle cx="289.0" cy="108.2" r="4.7" fill="#ff4a00" stroke="#1a0d08" stroke-width="1.0"/>
<circle cx="296.5" cy="85.6" r="4.7" fill="#ff4a00" stroke="#1a0d08" stroke-width="1.0"/>
<circle cx="279.5" cy="81.4" r="4.7" fill="#ff4a00" stroke="#1a0d08" stroke-width="1.0"/>
<circle cx="259.4" cy="84.6" r="4.7" fill="#ff4a00" stroke="#1a0d08" stroke-width="1.0"/>
<circle cx="272.7" cy="88.6" r="4.7" fill="#ff4a00" stroke="#1a0d08" stroke-width="1.0"/>
<circle cx="261.4" cy="84.6" r="4.7" fill="#ff4a00" stroke="#1a0d08" stroke-width="1.0"/>
<circle cx="297.9" cy="100.8" r="4.7" fill="#ff4a00" stroke="#1a0d08" stroke-width="1.0"/>
<circle cx="265.9" cy="85.0" r="4.7" fill="#ff4a00" stroke="#1a0d08" stroke-width="1.0"/>
<circle cx="258.4" cy="68.8" r="4.7" fill="#ff4a00" stroke="#1a0d08" stroke-width="1.0"/>
<circle cx="260.4" cy="86.1" r="4.7" fill="#ff4a00" stroke="#1a0d08" stroke-width="1.0"/>
<circle cx="292.1" cy="107.4" r="4.7" fill="#ff4a00" stroke="#1a0d08" stroke-width="1.0"/>
<circle cx="284.4" cy="80.8" r="4.7" fill="#ff4a00" stroke="#1a0d08" stroke-width="1.0"/>
<circle cx="278.6" cy="87.9" r="4.7" fill="#ff4a00" stroke="#1a0d08" stroke-width="1.0"/>
<circle cx="295.9" cy="104.8" r="4.7" fill="#ff4a00" stroke="#1a0d08" stroke-width="1.0"/>
<circle cx="260.8" cy="82.9" r="4.7" fill="#ff4a00" stroke="#1a0d08" stroke-width="1.0"/>
<circle cx="259.1" cy="82.6" r="4.7" fill="#ff4a00" stroke="#1a0d08" stroke-width="1.0"/>
<circle cx="287.6" cy="108.3" r="4.7" fill="#ff4a00" stroke="#1a0d08" stroke-width="1.0"/>
<circle cx="262.0" cy="79.7" r="4.7" fill="#ff4a00" stroke="#1a0d08" stroke-width="1.0"/>
<circle cx="276.6" cy="89.2" r="4.7" fill="#ff4a00" stroke="#1a0d08" stroke-width="1.0"/>
<circle cx="261.1" cy="71.7" r="4.7" fill="#ff4a00" stroke="#1a0d08" stroke-width="1.0"/>
<circle cx="278.6" cy="83.1" r="4.7" fill="#ff4a00" stroke="#1a0d08" stroke-width="1.0"/>
<circle cx="287.7" cy="103.4" r="4.7" fill="#ff4a00" stroke="#1a0d08" stroke-width="1.0"/>
<circle cx="294.6" cy="77.5" r="4.7" fill="#ff4a00" stroke="#1a0d08" stroke-width="1.0"/>
<circle cx="263.5" cy="87.2" r="4.7" fill="#ff4a00" stroke="#1a0d08" stroke-width="1.0"/>
<circle cx="286.1" cy="80.0" r="4.7" fill="#ff4a00" stroke="#1a0d08" stroke-width="1.0"/>
<circle cx="284.7" cy="82.1" r="4.7" fill="#ff4a00" stroke="#1a0d08" stroke-width="1.0"/>
<circle cx="252.4" cy="74.2" r="4.7" fill="#ff4a00" stroke="#1a0d08" stroke-width="1.0"/>
<circle cx="293.5" cy="94.8" r="4.7" fill="#ff4a00" stroke="#1a0d08" stroke-width="1.0"/>
<circle cx="291.2" cy="110.9" r="4.7" fill="#ff4a00" stroke="#1a0d08" stroke-width="1.0"/>
<circle cx="270.9" cy="91.8" r="4.7" fill="#ff4a00" stroke="#1a0d08" stroke-width="1.0"/>
<circle cx="276.9" cy="84.7" r="4.7" fill="#ff4a00" stroke="#1a0d08" stroke-width="1.0"/>
<circle cx="295.4" cy="92.1" r="4.7" fill="#ff4a00" stroke="#1a0d08" stroke-width="1.0"/>
<circle cx="292.9" cy="83.2" r="4.7" fill="#ff4a00" stroke="#1a0d08" stroke-width="1.0"/>
<circle cx="269.1" cy="77.2" r="4.7" fill="#ff4a00" stroke="#1a0d08" stroke-width="1.0"/>
<circle cx="289.4" cy="89.2" r="4.7" fill="#ff4a00" stroke="#1a0d08" stroke-width="1.0"/>
<circle cx="299.7" cy="80.4" r="4.7" fill="#ff4a00" stroke="#1a0d08" stroke-width="1.0"/>
<circle cx="299.6" cy="82.0" r="4.7" fill="#ff4a00" stroke="#1a0d08" stroke-width="1.0"/>
<circle cx="285.0" cy="89.1" r="4.7" fill="#ff4a00" stroke="#1a0d08" stroke-width="1.0"/>
<circle cx="269.1" cy="90.4" r="4.7" fill="#ff4a00" stroke="#1a0d08" stroke-width="1.0"/>
<circle cx="274.8" cy="82.6" r="4.7" fill="#ff4a00" stroke="#1a0d08" stroke-width="1.0"/>
<circle cx="306.6" cy="92.5" r="4.7" fill="#ff4a00" stroke="#1a0d08" stroke-width="1.0"/>
<circle cx="285.2" cy="69.6" r="4.7" fill="#ff4a00" stroke="#1a0d08" stroke-width="1.0"/>
<circle cx="289.5" cy="83.7" r="4.7" fill="#ff4a00" stroke="#1a0d08" stroke-width="1.0"/>
<circle cx="265.6" cy="78.5" r="4.7" fill="#ff4a00" stroke="#1a0d08" stroke-width="1.0"/>
<circle cx="282.2" cy="91.3" r="4.7" fill="#ff4a00" stroke="#1a0d08" stroke-width="1.0"/>
<circle cx="252.5" cy="76.8" r="4.7" fill="#ff4a00" stroke="#1a0d08" stroke-width="1.0"/>
<circle cx="283.9" cy="94.5" r="4.7" fill="#ff4a00" stroke="#1a0d08" stroke-width="1.0"/>
<circle cx="264.2" cy="89.1" r="4.7" fill="#ff4a00" stroke="#1a0d08" stroke-width="1.0"/>
<circle cx="281.8" cy="76.1" r="4.7" fill="#ff4a00" stroke="#1a0d08" stroke-width="1.0"/>
<circle cx="280.1" cy="69.1" r="4.7" fill="#ff4a00" stroke="#1a0d08" stroke-width="1.0"/>
<circle cx="278.7" cy="92.2" r="4.7" fill="#ff4a00" stroke="#1a0d08" stroke-width="1.0"/>
<circle cx="301.6" cy="91.2" r="4.7" fill="#ff4a00" stroke="#1a0d08" stroke-width="1.0"/>
<circle cx="297.8" cy="110.8" r="4.7" fill="#ff4a00" stroke="#1a0d08" stroke-width="1.0"/>
<circle cx="282.0" cy="66.6" r="4.7" fill="#ff4a00" stroke="#1a0d08" stroke-width="1.0"/>
<circle cx="268.0" cy="83.0" r="4.7" fill="#ff4a00" stroke="#1a0d08" stroke-width="1.0"/>
<circle cx="293.8" cy="91.9" r="4.7" fill="#ff4a00" stroke="#1a0d08" stroke-width="1.0"/>
<circle cx="278.8" cy="89.6" r="4.7" fill="#ff4a00" stroke="#1a0d08" stroke-width="1.0"/>
<circle cx="265.7" cy="89.3" r="4.7" fill="#ff4a00" stroke="#1a0d08" stroke-width="1.0"/>
<circle cx="286.0" cy="100.1" r="4.7" fill="#ff4a00" stroke="#1a0d08" stroke-width="1.0"/>
<circle cx="255.3" cy="83.3" r="4.7" fill="#ff4a00" stroke="#1a0d08" stroke-width="1.0"/>
<circle cx="298.6" cy="90.8" r="4.7" fill="#ff4a00" stroke="#1a0d08" stroke-width="1.0"/>
<circle cx="285.0" cy="98.1" r="4.7" fill="#ff4a00" stroke="#1a0d08" stroke-width="1.0"/>
<circle cx="290.0" cy="97.7" r="4.7" fill="#ff4a00" stroke="#1a0d08" stroke-width="1.0"/>
<circle cx="266.0" cy="82.1" r="4.7" fill="#ff4a00" stroke="#1a0d08" stroke-width="1.0"/>
<circle cx="292.2" cy="90.6" r="4.7" fill="#ff4a00" stroke="#1a0d08" stroke-width="1.0"/>
<circle cx="267.5" cy="92.0" r="4.7" fill="#ff4a00" stroke="#1a0d08" stroke-width="1.0"/>
<circle cx="263.6" cy="92.1" r="4.7" fill="#ff4a00" stroke="#1a0d08" stroke-width="1.0"/>
<circle cx="289.9" cy="86.0" r="4.7" fill="#ff4a00" stroke="#1a0d08" stroke-width="1.0"/>
<circle cx="285.6" cy="100.8" r="4.7" fill="#ff4a00" stroke="#1a0d08" stroke-width="1.0"/>
<circle cx="287.0" cy="69.6" r="4.7" fill="#ff4a00" stroke="#1a0d08" stroke-width="1.0"/>
<circle cx="288.1" cy="74.8" r="4.7" fill="#ff4a00" stroke="#1a0d08" stroke-width="1.0"/>
<circle cx="292.2" cy="78.4" r="4.7" fill="#ff4a00" stroke="#1a0d08" stroke-width="1.0"/>
<circle cx="283.1" cy="69.9" r="4.7" fill="#ff4a00" stroke="#1a0d08" stroke-width="1.0"/>
<circle cx="257.1" cy="70.1" r="4.7" fill="#ff4a00" stroke="#1a0d08" stroke-width="1.0"/>
<circle cx="254.2" cy="70.3" r="4.7" fill="#ff4a00" stroke="#1a0d08" stroke-width="1.0"/>
<circle cx="297.5" cy="84.6" r="4.7" fill="#ff4a00" stroke="#1a0d08" stroke-width="1.0"/>
<circle cx="305.5" cy="94.6" r="4.7" fill="#ff4a00" stroke="#1a0d08" stroke-width="1.0"/>
<circle cx="283.6" cy="77.4" r="4.7" fill="#ff4a00" stroke="#1a0d08" stroke-width="1.0"/>
<circle cx="263.9" cy="79.2" r="4.7" fill="#ff4a00" stroke="#1a0d08" stroke-width="1.0"/>
<circle cx="288.9" cy="95.2" r="4.7" fill="#ff4a00" stroke="#1a0d08" stroke-width="1.0"/>
<circle cx="287.6" cy="86.9" r="4.7" fill="#ff4a00" stroke="#1a0d08" stroke-width="1.0"/>
<circle cx="256.7" cy="69.3" r="4.7" fill="#ff4a00" stroke="#1a0d08" stroke-width="1.0"/>
<circle cx="272.9" cy="91.5" r="4.7" fill="#ff4a00" stroke="#1a0d08" stroke-width="1.0"/>
<circle cx="253.1" cy="83.8" r="4.7" fill="#ff4a00" stroke="#1a0d08" stroke-width="1.0"/>
<circle cx="257.4" cy="73.3" r="4.7" fill="#ff4a00" stroke="#1a0d08" stroke-width="1.0"/>
<circle cx="303.8" cy="87.1" r="4.7" fill="#ff4a00" stroke="#1a0d08" stroke-width="1.0"/>
<circle cx="304.3" cy="88.6" r="4.7" fill="#ff4a00" stroke="#1a0d08" stroke-width="1.0"/>
<circle cx="264.5" cy="84.6" r="4.7" fill="#ff4a00" stroke="#1a0d08" stroke-width="1.0"/>
<circle cx="287.5" cy="77.3" r="4.7" fill="#ff4a00" stroke="#1a0d08" stroke-width="1.0"/>
<circle cx="262.5" cy="81.2" r="4.7" fill="#ff4a00" stroke="#1a0d08" stroke-width="1.0"/>
<circle cx="282.1" cy="72.7" r="4.7" fill="#ff4a00" stroke="#1a0d08" stroke-width="1.0"/>
<circle cx="278.7" cy="85.2" r="4.7" fill="#ff4a00" stroke="#1a0d08" stroke-width="1.0"/>
<circle cx="283.8" cy="103.8" r="4.7" fill="#ff4a00" stroke="#1a0d08" stroke-width="1.0"/>
<circle cx="305.6" cy="89.6" r="4.7" fill="#ff4a00" stroke="#1a0d08" stroke-width="1.0"/>
<circle cx="286.2" cy="72.1" r="4.7" fill="#ff4a00" stroke="#1a0d08" stroke-width="1.0"/>
<circle cx="274.8" cy="84.2" r="4.7" fill="#ff4a00" stroke="#1a0d08" stroke-width="1.0"/>
<circle cx="300.0" cy="89.6" r="4.7" fill="#ff4a00" stroke="#1a0d08" stroke-width="1.0"/>
<circle cx="282.6" cy="69.7" r="4.7" fill="#ff4a00" stroke="#1a0d08" stroke-width="1.0"/>
<circle cx="264.6" cy="78.4" r="4.7" fill="#ff4a00" stroke="#1a0d08" stroke-width="1.0"/>
<circle cx="259.3" cy="83.4" r="4.7" fill="#ff4a00" stroke="#1a0d08" stroke-width="1.0"/>
<circle cx="274.8" cy="90.1" r="4.7" fill="#ff4a00" stroke="#1a0d08" stroke-width="1.0"/>
<circle cx="293.9" cy="102.3" r="4.7" fill="#ff4a00" stroke="#1a0d08" stroke-width="1.0"/>
<circle cx="293.4" cy="109.8" r="4.7" fill="#ff4a00" stroke="#1a0d08" stroke-width="1.0"/>
<circle cx="295.7" cy="98.2" r="4.7" fill="#ff4a00" stroke="#1a0d08" stroke-width="1.0"/>
<circle cx="262.5" cy="93.2" r="4.7" fill="#ff4a00" stroke="#1a0d08" stroke-width="1.0"/>
<circle cx="287.8" cy="96.0" r="4.7" fill="#ff4a00" stroke="#1a0d08" stroke-width="1.0"/>
<circle cx="301.8" cy="85.8" r="4.7" fill="#ff4a00" stroke="#1a0d08" stroke-width="1.0"/>
<circle cx="283.7" cy="99.2" r="4.7" fill="#ff4a00" stroke="#1a0d08" stroke-width="1.0"/>
<circle cx="289.6" cy="99.7" r="4.7" fill="#ff4a00" stroke="#1a0d08" stroke-width="1.0"/>
<circle cx="257.9" cy="83.0" r="4.7" fill="#ff4a00" stroke="#1a0d08" stroke-width="1.0"/>
<circle cx="300.6" cy="103.8" r="4.7" fill="#ff4a00" stroke="#1a0d08" stroke-width="1.0"/>
<circle cx="288.6" cy="106.2" r="4.7" fill="#ff4a00" stroke="#1a0d08" stroke-width="1.0"/>
<circle cx="303.4" cy="100.0" r="4.7" fill="#ff4a00" stroke="#1a0d08" stroke-width="1.0"/>
<circle cx="260.1" cy="72.7" r="4.7" fill="#ff4a00" stroke="#1a0d08" stroke-width="1.0"/>
<circle cx="288.5" cy="71.9" r="4.7" fill="#ff4a00" stroke="#1a0d08" stroke-width="1.0"/>
<circle cx="262.8" cy="75.2" r="4.7" fill="#ff4a00" stroke="#1a0d08" stroke-width="1.0"/>
<circle cx="278.4" cy="96.1" r="4.7" fill="#ff4a00" stroke="#1a0d08" stroke-width="1.0"/>
<circle cx="271.0" cy="78.0" r="4.7" fill="#ff4a00" stroke="#1a0d08" stroke-width="1.0"/>
<circle cx="280.2" cy="99.8" r="4.7" fill="#ff4a00" stroke="#1a0d08" stroke-width="1.0"/>
<circle cx="283.1" cy="84.0" r="4.7" fill="#ff4a00" stroke="#1a0d08" stroke-width="1.0"/>
<circle cx="277.1" cy="92.0" r="4.7" fill="#ff4a00" stroke="#1a0d08" stroke-width="1.0"/>
<circle cx="301.5" cy="100.6" r="4.7" fill="#ff4a00" stroke="#1a0d08" stroke-width="1.0"/>
<circle cx="295.8" cy="83.9" r="4.7" fill="#ff4a00" stroke="#1a0d08" stroke-width="1.0"/>
<circle cx="304.0" cy="98.5" r="4.7" fill="#ff4a00" stroke="#1a0d08" stroke-width="1.0"/>
<circle cx="278.6" cy="94.3" r="4.7" fill="#ff4a00" stroke="#1a0d08" stroke-width="1.0"/>
<circle cx="262.8" cy="73.1" r="4.7" fill="#ff4a00" stroke="#1a0d08" stroke-width="1.0"/>
<circle cx="256.6" cy="75.4" r="4.7" fill="#ff4a00" stroke="#1a0d08" stroke-width="1.0"/>
<circle cx="254.4" cy="69.0" r="4.7" fill="#ff4a00" stroke="#1a0d08" stroke-width="1.0"/>
<circle cx="288.4" cy="69.5" r="4.7" fill="#ff4a00" stroke="#1a0d08" stroke-width="1.0"/>
<circle cx="259.3" cy="80.1" r="4.7" fill="#ff4a00" stroke="#1a0d08" stroke-width="1.0"/>
<circle cx="296.4" cy="108.4" r="4.7" fill="#ff4a00" stroke="#1a0d08" stroke-width="1.0"/>
<circle cx="283.7" cy="90.8" r="4.7" fill="#ff4a00" stroke="#1a0d08" stroke-width="1.0"/>
<circle cx="259.7" cy="77.4" r="4.7" fill="#ff4a00" stroke="#1a0d08" stroke-width="1.0"/>
<circle cx="281.7" cy="86.5" r="4.7" fill="#ff4a00" stroke="#1a0d08" stroke-width="1.0"/>
<circle cx="268.0" cy="77.0" r="4.7" fill="#ff4a00" stroke="#1a0d08" stroke-width="1.0"/>
<circle cx="301.6" cy="94.9" r="4.7" fill="#ff4a00" stroke="#1a0d08" stroke-width="1.0"/>
<circle cx="280.0" cy="89.2" r="4.7" fill="#ff4a00" stroke="#1a0d08" stroke-width="1.0"/>
<circle cx="297.8" cy="80.2" r="4.7" fill="#ff4a00" stroke="#1a0d08" stroke-width="1.0"/>
<circle cx="267.5" cy="85.1" r="4.7" fill="#ff4a00" stroke="#1a0d08" stroke-width="1.0"/>
<circle cx="303.4" cy="90.2" r="4.7" fill="#ff4a00" stroke="#1a0d08" stroke-width="1.0"/>
<circle cx="305.6" cy="103.0" r="4.7" fill="#ff4a00" stroke="#1a0d08" stroke-width="1.0"/>
<circle cx="264.9" cy="75.8" r="4.7" fill="#ff4a00" stroke="#1a0d08" stroke-width="1.0"/>
<circle cx="304.4" cy="84.1" r="4.7" fill="#ff4a00" stroke="#1a0d08" stroke-width="1.0"/>
<circle cx="271.5" cy="87.7" r="4.7" fill="#ff4a00" stroke="#1a0d08" stroke-width="1.0"/>
<circle cx="298.0" cy="96.7" r="4.7" fill="#ff4a00" stroke="#1a0d08" stroke-width="1.0"/>
<circle cx="267.9" cy="90.4" r="4.7" fill="#ff4a00" stroke="#1a0d08" stroke-width="1.0"/>
<circle cx="280.7" cy="79.3" r="4.7" fill="#ff4a00" stroke="#1a0d08" stroke-width="1.0"/>
<circle cx="253.6" cy="73.4" r="4.7" fill="#ff4a00" stroke="#1a0d08" stroke-width="1.0"/>
<circle cx="302.1" cy="88.9" r="4.7" fill="#ff4a00" stroke="#1a0d08" stroke-width="1.0"/>
<circle cx="286.9" cy="87.0" r="4.7" fill="#ff4a00" stroke="#1a0d08" stroke-width="1.0"/>
<circle cx="253.3" cy="81.5" r="4.7" fill="#ff4a00" stroke="#1a0d08" stroke-width="1.0"/>
<circle cx="262.5" cy="83.3" r="4.7" fill="#ff4a00" stroke="#1a0d08" stroke-width="1.0"/>
<circle cx="292.0" cy="108.7" r="4.7" fill="#ff4a00" stroke="#1a0d08" stroke-width="1.0"/>
<circle cx="257.8" cy="85.6" r="4.7" fill="#ff4a00" stroke="#1a0d08" stroke-width="1.0"/>
<circle cx="283.0" cy="85.8" r="4.7" fill="#ff4a00" stroke="#1a0d08" stroke-width="1.0"/>
<circle cx="282.0" cy="88.8" r="4.7" fill="#ff4a00" stroke="#1a0d08" stroke-width="1.0"/>
<circle cx="292.1" cy="102.5" r="4.7" fill="#ff4a00" stroke="#1a0d08" stroke-width="1.0"/>
<circle cx="282.4" cy="102.5" r="4.7" fill="#ff4a00" stroke="#1a0d08" stroke-width="1.0"/>
<circle cx="285.5" cy="96.9" r="4.7" fill="#ff4a00" stroke="#1a0d08" stroke-width="1.0"/>
<circle cx="290.1" cy="82.2" r="4.7" fill="#ff4a00" stroke="#1a0d08" stroke-width="1.0"/>
<circle cx="277.2" cy="95.8" r="4.7" fill="#ff4a00" stroke="#1a0d08" stroke-width="1.0"/>
<circle cx="287.9" cy="79.8" r="4.7" fill="#ff4a00" stroke="#1a0d08" stroke-width="1.0"/>
<circle cx="297.5" cy="108.0" r="4.7" fill="#ff4a00" stroke="#1a0d08" stroke-width="1.0"/>
<circle cx="258.4" cy="80.4" r="4.7" fill="#ff4a00" stroke="#1a0d08" stroke-width="1.0"/>
<circle cx="265.0" cy="94.8" r="4.7" fill="#ff4a00" stroke="#1a0d08" stroke-width="1.0"/>
<circle cx="257.6" cy="72.0" r="4.7" fill="#ff4a00" stroke="#1a0d08" stroke-width="1.0"/>
<circle cx="258.0" cy="78.5" r="4.7" fill="#ff4a00" stroke="#1a0d08" stroke-width="1.0"/>
<circle cx="279.4" cy="77.2" r="4.7" fill="#ff4a00" stroke="#1a0d08" stroke-width="1.0"/>
<circle cx="273.3" cy="78.9" r="4.7" fill="#ff4a00" stroke="#1a0d08" stroke-width="1.0"/>
<circle cx="301.6" cy="96.6" r="4.7" fill="#ff4a00" stroke="#1a0d08" stroke-width="1.0"/>
<circle cx="252.6" cy="75.5" r="4.7" fill="#ff4a00" stroke="#1a0d08" stroke-width="1.0"/>
<circle cx="255.0" cy="84.7" r="4.7" fill="#ff4a00" stroke="#1a0d08" stroke-width="1.0"/>
<circle cx="302.1" cy="84.2" r="4.7" fill="#ff4a00" stroke="#1a0d08" stroke-width="1.0"/>
<circle cx="286.9" cy="67.5" r="4.7" fill="#ff4a00" stroke="#1a0d08" stroke-width="1.0"/>
<circle cx="296.5" cy="97.0" r="4.7" fill="#ff4a00" stroke="#1a0d08" stroke-width="1.0"/>
<circle cx="302.5" cy="110.0" r="4.7" fill="#ff4a00" stroke="#1a0d08" stroke-width="1.0"/>
<circle cx="258.2" cy="73.1" r="4.7" fill="#ff4a00" stroke="#1a0d08" stroke-width="1.0"/>
<circle cx="264.2" cy="90.5" r="4.7" fill="#ff4a00" stroke="#1a0d08" stroke-width="1.0"/>
<circle cx="253.0" cy="80.0" r="4.7" fill="#ff4a00" stroke="#1a0d08" stroke-width="1.0"/>
<circle cx="270.7" cy="85.5" r="4.7" fill="#ff4a00" stroke="#1a0d08" stroke-width="1.0"/>
<circle cx="253.9" cy="80.2" r="4.7" fill="#ff4a00" stroke="#1a0d08" stroke-width="1.0"/>
<circle cx="287.8" cy="89.0" r="4.7" fill="#ff4a00" stroke="#1a0d08" stroke-width="1.0"/>
<circle cx="289.4" cy="76.6" r="4.7" fill="#ff4a00" stroke="#1a0d08" stroke-width="1.0"/>
<circle cx="290.5" cy="88.7" r="4.7" fill="#ff4a00" stroke="#1a0d08" stroke-width="1.0"/>
<circle cx="296.5" cy="106.9" r="4.7" fill="#ff4a00" stroke="#1a0d08" stroke-width="1.0"/>
<circle cx="306.0" cy="85.4" r="4.7" fill="#ff4a00" stroke="#1a0d08" stroke-width="1.0"/>
<circle cx="303.6" cy="109.4" r="4.7" fill="#ff4a00" stroke="#1a0d08" stroke-width="1.0"/>
<circle cx="286.2" cy="98.8" r="4.7" fill="#ff4a00" stroke="#1a0d08" stroke-width="1.0"/>
<circle cx="271.2" cy="76.0" r="4.7" fill="#ff4a00" stroke="#1a0d08" stroke-width="1.0"/>
<circle cx="284.8" cy="78.6" r="4.7" fill="#ff4a00" stroke="#1a0d08" stroke-width="1.0"/>
<circle cx="286.2" cy="105.7" r="4.7" fill="#ff4a00" stroke="#1a0d08" stroke-width="1.0"/>
<circle cx="289.9" cy="103.8" r="4.7" fill="#ff4a00" stroke="#1a0d08" stroke-width="1.0"/>
<circle cx="287.5" cy="109.8" r="4.7" fill="#ff4a00" stroke="#1a0d08" stroke-width="1.0"/>
<circle cx="287.0" cy="66.0" r="4.7" fill="#ff4a00" stroke="#1a0d08" stroke-width="1.0"/>
<circle cx="274.9" cy="88.8" r="4.7" fill="#ff4a00" stroke="#1a0d08" stroke-width="1.0"/>
<circle cx="263.9" cy="82.2" r="4.7" fill="#ff4a00" stroke="#1a0d08" stroke-width="1.0"/>
<circle cx="299.9" cy="86.6" r="4.7" fill="#ff4a00" stroke="#1a0d08" stroke-width="1.0"/>
<circle cx="273.2" cy="84.2" r="4.7" fill="#ff4a00" stroke="#1a0d08" stroke-width="1.0"/>
<circle cx="282.5" cy="93.8" r="4.7" fill="#ff4a00" stroke="#1a0d08" stroke-width="1.0"/>
<circle cx="293.4" cy="84.4" r="4.7" fill="#ff4a00" stroke="#1a0d08" stroke-width="1.0"/>
<circle cx="254.0" cy="78.3" r="4.7" fill="#ff4a00" stroke="#1a0d08" stroke-width="1.0"/>
<circle cx="252.1" cy="78.1" r="4.7" fill="#ff4a00" stroke="#1a0d08" stroke-width="1.0"/>
<circle cx="295.4" cy="78.1" r="4.7" fill="#ff4a00" stroke="#1a0d08" stroke-width="1.0"/>
<circle cx="281.9" cy="83.5" r="4.7" fill="#ff4a00" stroke="#1a0d08" stroke-width="1.0"/>
<circle cx="270.6" cy="90.4" r="4.7" fill="#ff4a00" stroke="#1a0d08" stroke-width="1.0"/>
<circle cx="289.4" cy="100.9" r="4.7" fill="#ff4a00" stroke="#1a0d08" stroke-width="1.0"/>
<circle cx="256.2" cy="78.3" r="4.7" fill="#ff4a00" stroke="#1a0d08" stroke-width="1.0"/>
<circle cx="258.7" cy="76.8" r="4.7" fill="#ff4a00" stroke="#1a0d08" stroke-width="1.0"/>
<circle cx="283.8" cy="100.5" r="4.7" fill="#ff4a00" stroke="#1a0d08" stroke-width="1.0"/>
<circle cx="289.2" cy="70.2" r="4.7" fill="#ff4a00" stroke="#1a0d08" stroke-width="1.0"/>
<circle cx="268.8" cy="75.1" r="4.7" fill="#ff4a00" stroke="#1a0d08" stroke-width="1.0"/>
<circle cx="252.3" cy="81.5" r="4.7" fill="#ff4a00" stroke="#1a0d08" stroke-width="1.0"/>
<circle cx="291.0" cy="96.8" r="4.7" fill="#ff4a00" stroke="#1a0d08" stroke-width="1.0"/>
<circle cx="293.9" cy="86.8" r="4.7" fill="#ff4a00" stroke="#1a0d08" stroke-width="1.0"/>
<circle cx="284.7" cy="86.9" r="4.7" fill="#ff4a00" stroke="#1a0d08" stroke-width="1.0"/>
<circle cx="298.6" cy="93.6" r="4.7" fill="#ff4a00" stroke="#1a0d08" stroke-width="1.0"/>
<circle cx="265.0" cy="93.3" r="4.7" fill="#ff4a00" stroke="#1a0d08" stroke-width="1.0"/>
<circle cx="261.0" cy="79.5" r="4.7" fill="#ff4a00" stroke="#1a0d08" stroke-width="1.0"/>
<circle cx="275.0" cy="92.4" r="4.7" fill="#ff4a00" stroke="#1a0d08" stroke-width="1.0"/>
<circle cx="281.8" cy="95.7" r="4.7" fill="#ff4a00" stroke="#1a0d08" stroke-width="1.0"/>
<circle cx="267.4" cy="75.5" r="4.7" fill="#ff4a00" stroke="#1a0d08" stroke-width="1.0"/>
<circle cx="286.5" cy="107.4" r="4.7" fill="#ff4a00" stroke="#1a0d08" stroke-width="1.0"/>
<circle cx="280.9" cy="72.5" r="4.7" fill="#ff4a00" stroke="#1a0d08" stroke-width="1.0"/>
<circle cx="287.1" cy="94.6" r="4.7" fill="#ff4a00" stroke="#1a0d08" stroke-width="1.0"/>
<circle cx="302.1" cy="99.3" r="4.7" fill="#ff4a00" stroke="#1a0d08" stroke-width="1.0"/>
<circle cx="275.6" cy="93.7" r="4.7" fill="#ff4a00" stroke="#1a0d08" stroke-width="1.0"/>
<circle cx="281.0" cy="71.2" r="4.7" fill="#ff4a00" stroke="#1a0d08" stroke-width="1.0"/>
<circle cx="300.4" cy="97.7" r="4.7" fill="#ff4a00" stroke="#1a0d08" stroke-width="1.0"/>
<circle cx="296.5" cy="94.6" r="4.7" fill="#ff4a00" stroke="#1a0d08" stroke-width="1.0"/>
<circle cx="299.4" cy="100.5" r="4.7" fill="#ff4a00" stroke="#1a0d08" stroke-width="1.0"/>
<circle cx="254.7" cy="78.3" r="4.7" fill="#ff4a00" stroke="#1a0d08" stroke-width="1.0"/>
<circle cx="267.4" cy="78.8" r="4.7" fill="#ff4a00" stroke="#1a0d08" stroke-width="1.0"/>
<circle cx="300.6" cy="93.6" r="4.7" fill="#ff4a00" stroke="#1a0d08" stroke-width="1.0"/>
<circle cx="293.8" cy="107.0" r="4.7" fill="#ff4a00" stroke="#1a0d08" stroke-width="1.0"/>
<circle cx="292.7" cy="99.6" r="4.7" fill="#ff4a00" stroke="#1a0d08" stroke-width="1.0"/>
<circle cx="280.3" cy="82.3" r="4.7" fill="#ff4a00" stroke="#1a0d08" stroke-width="1.0"/>
<circle cx="285.9" cy="84.5" r="4.7" fill="#ff4a00" stroke="#1a0d08" stroke-width="1.0"/>
<circle cx="282.2" cy="101.2" r="4.7" fill="#ff4a00" stroke="#1a0d08" stroke-width="1.0"/>
<circle cx="283.2" cy="82.7" r="4.7" fill="#ff4a00" stroke="#1a0d08" stroke-width="1.0"/>
<circle cx="274.9" cy="80.5" r="4.7" fill="#ff4a00" stroke="#1a0d08" stroke-width="1.0"/>
<circle cx="306.5" cy="84.0" r="4.7" fill="#ff4a00" stroke="#1a0d08" stroke-width="1.0"/>
<circle cx="293.6" cy="97.8" r="4.7" fill="#ff4a00" stroke="#1a0d08" stroke-width="1.0"/>
<circle cx="254.0" cy="83.1" r="4.7" fill="#ff4a00" stroke="#1a0d08" stroke-width="1.0"/>
<circle cx="252.2" cy="69.6" r="4.7" fill="#ff4a00" stroke="#1a0d08" stroke-width="1.0"/>
<circle cx="295.9" cy="103.2" r="4.7" fill="#ff4a00" stroke="#1a0d08" stroke-width="1.0"/>
<circle cx="276.7" cy="83.2" r="4.7" fill="#ff4a00" stroke="#1a0d08" stroke-width="1.0"/>
<circle cx="291.3" cy="79.5" r="4.7" fill="#ff4a00" stroke="#1a0d08" stroke-width="1.0"/>
<circle cx="287.0" cy="88.5" r="4.7" fill="#ff4a00" stroke="#1a0d08" stroke-width="1.0"/>
<circle cx="274.4" cy="86.7" r="4.7" fill="#ff4a00" stroke="#1a0d08" stroke-width="1.0"/>
<circle cx="290.4" cy="95.0" r="4.7" fill="#ff4a00" stroke="#1a0d08" stroke-width="1.0"/>
<circle cx="263.1" cy="84.0" r="4.7" fill="#ff4a00" stroke="#1a0d08" stroke-width="1.0"/>
<circle cx="268.0" cy="81.0" r="4.7" fill="#ff4a00" stroke="#1a0d08" stroke-width="1.0"/>
<circle cx="298.1" cy="89.1" r="4.7" fill="#ff4a00" stroke="#1a0d08" stroke-width="1.0"/>
<circle cx="257.8" cy="79.4" r="4.7" fill="#ff4a00" stroke="#1a0d08" stroke-width="1.0"/>
<circle cx="278.8" cy="79.2" r="4.7" fill="#ff4a00" stroke="#1a0d08" stroke-width="1.0"/>
<circle cx="291.1" cy="90.8" r="4.7" fill="#ff4a00" stroke="#1a0d08" stroke-width="1.0"/>
<circle cx="261.6" cy="73.1" r="4.7" fill="#ff4a00" stroke="#1a0d08" stroke-width="1.0"/>
<circle cx="289.6" cy="71.8" r="4.7" fill="#ff4a00" stroke="#1a0d08" stroke-width="1.0"/>
<circle cx="303.5" cy="105.0" r="4.7" fill="#ff4a00" stroke="#1a0d08" stroke-width="1.0"/>
<circle cx="291.2" cy="107.0" r="4.7" fill="#ff4a00" stroke="#1a0d08" stroke-width="1.0"/>
<circle cx="291.0" cy="102.5" r="4.7" fill="#ff4a00" stroke="#1a0d08" stroke-width="1.0"/>
<circle cx="293.1" cy="87.3" r="4.7" fill="#ff4a00" stroke="#1a0d08" stroke-width="1.0"/>
<circle cx="281.9" cy="77.3" r="4.7" fill="#ff4a00" stroke="#1a0d08" stroke-width="1.0"/>
<circle cx="288.5" cy="66.7" r="4.7" fill="#ff4a00" stroke="#1a0d08" stroke-width="1.0"/>
<circle cx="293.8" cy="88.7" r="4.7" fill="#ff4a00" stroke="#1a0d08" stroke-width="1.0"/>
<circle cx="258.6" cy="85.1" r="4.7" fill="#ff4a00" stroke="#1a0d08" stroke-width="1.0"/>
<circle cx="289.8" cy="74.6" r="4.7" fill="#ff4a00" stroke="#1a0d08" stroke-width="1.0"/>
<circle cx="286.3" cy="92.7" r="4.7" fill="#ff4a00" stroke="#1a0d08" stroke-width="1.0"/>
<circle cx="288.3" cy="90.7" r="4.7" fill="#ff4a00" stroke="#1a0d08" stroke-width="1.0"/>
<circle cx="283.0" cy="102.2" r="4.7" fill="#ff4a00" stroke="#1a0d08" stroke-width="1.0"/>
<circle cx="280.4" cy="77.2" r="4.7" fill="#ff4a00" stroke="#1a0d08" stroke-width="1.0"/>
<circle cx="295.7" cy="87.9" r="4.7" fill="#ff4a00" stroke="#1a0d08" stroke-width="1.0"/>
<circle cx="254.5" cy="81.3" r="4.7" fill="#ff4a00" stroke="#1a0d08" stroke-width="1.0"/>
<circle cx="286.2" cy="102.8" r="4.7" fill="#ff4a00" stroke="#1a0d08" stroke-width="1.0"/>
<circle cx="260.0" cy="78.7" r="4.7" fill="#ff4a00" stroke="#1a0d08" stroke-width="1.0"/>
<circle cx="271.5" cy="82.6" r="4.7" fill="#ff4a00" stroke="#1a0d08" stroke-width="1.0"/>
<circle cx="263.1" cy="74.8" r="4.7" fill="#ff4a00" stroke="#1a0d08" stroke-width="1.0"/>
<circle cx="280.0" cy="94.6" r="4.7" fill="#ff4a00" stroke="#1a0d08" stroke-width="1.0"/>
<circle cx="279.4" cy="75.8" r="4.7" fill="#ff4a00" stroke="#1a0d08" stroke-width="1.0"/>
<circle cx="272.6" cy="81.7" r="4.7" fill="#ff4a00" stroke="#1a0d08" stroke-width="1.0"/>
<circle cx="296.4" cy="111.0" r="4.7" fill="#ff4a00" stroke="#1a0d08" stroke-width="1.0"/>
<circle cx="262.6" cy="90.5" r="4.7" fill="#ff4a00" stroke="#1a0d08" stroke-width="1.0"/>
<circle cx="281.4" cy="84.8" r="4.7" fill="#ff4a00" stroke="#1a0d08" stroke-width="1.0"/>
<circle cx="306.4" cy="107.5" r="4.7" fill="#ff4a00" stroke="#1a0d08" stroke-width="1.0"/>
<circle cx="265.1" cy="86.6" r="4.7" fill="#ff4a00" stroke="#1a0d08" stroke-width="1.0"/>
<circle cx="253.6" cy="85.1" r="4.7" fill="#ff4a00" stroke="#1a0d08" stroke-width="1.0"/>
<circle cx="280.0" cy="90.6" r="4.7" fill="#ff4a00" stroke="#1a0d08" stroke-width="1.0"/>
<circle cx="276.5" cy="94.5" r="4.7" fill="#ff4a00" stroke="#1a0d08" stroke-width="1.0"/>
<circle cx="267.1" cy="89.2" r="4.7" fill="#ff4a00" stroke="#1a0d08" stroke-width="1.0"/>
<circle cx="286.4" cy="78.2" r="4.7" fill="#ff4a00" stroke="#1a0d08" stroke-width="1.0"/>
<circle cx="291.3" cy="73.9" r="4.7" fill="#ff4a00" stroke="#1a0d08" stroke-width="1.0"/>
<circle cx="271.5" cy="80.1" r="4.7" fill="#ff4a00" stroke="#1a0d08" stroke-width="1.0"/>
<circle cx="289.2" cy="87.6" r="4.7" fill="#ff4a00" stroke="#1a0d08" stroke-width="1.0"/>
<circle cx="265.8" cy="76.3" r="4.7" fill="#ff4a00" stroke="#1a0d08" stroke-width="1.0"/>
<circle cx="284.5" cy="91.1" r="4.7" fill="#ff4a00" stroke="#1a0d08" stroke-width="1.0"/>
<circle cx="300.5" cy="106.0" r="4.7" fill="#ff4a00" stroke="#1a0d08" stroke-width="1.0"/>
<circle cx="269.5" cy="88.4" r="4.7" fill="#ff4a00" stroke="#1a0d08" stroke-width="1.0"/>
<circle cx="261.0" cy="89.0" r="4.7" fill="#ff4a00" stroke="#1a0d08" stroke-width="1.0"/>
<circle cx="301.5" cy="104.9" r="4.7" fill="#ff4a00" stroke="#1a0d08" stroke-width="1.0"/>
<circle cx="272.5" cy="76.5" r="4.7" fill="#ff4a00" stroke="#1a0d08" stroke-width="1.0"/>
<circle cx="296.5" cy="79.4" r="4.7" fill="#ff4a00" stroke="#1a0d08" stroke-width="1.0"/>
<circle cx="303.8" cy="82.1" r="4.7" fill="#ff4a00" stroke="#1a0d08" stroke-width="1.0"/>
<circle cx="262.8" cy="87.8" r="4.7" fill="#ff4a00" stroke="#1a0d08" stroke-width="1.0"/>
<circle cx="269.1" cy="85.9" r="4.7" fill="#ff4a00" stroke="#1a0d08" stroke-width="1.0"/>
<circle cx="290.1" cy="106.5" r="4.7" fill="#ff4a00" stroke="#1a0d08" stroke-width="1.0"/>
<circle cx="278.4" cy="97.8" r="4.7" fill="#ff4a00" stroke="#1a0d08" stroke-width="1.0"/>
<circle cx="303.8" cy="107.3" r="4.7" fill="#ff4a00" stroke="#1a0d08" stroke-width="1.0"/>
<circle cx="265.7" cy="91.1" r="4.7" fill="#ff4a00" stroke="#1a0d08" stroke-width="1.0"/>
<circle cx="293.0" cy="110.6" r="4.7" fill="#ff4a00" stroke="#1a0d08" stroke-width="1.0"/>
<circle cx="262.2" cy="94.8" r="4.7" fill="#ff4a00" stroke="#1a0d08" stroke-width="1.0"/>
<circle cx="275.4" cy="79.0" r="4.7" fill="#ff4a00" stroke="#1a0d08" stroke-width="1.0"/>
<circle cx="285.5" cy="104.4" r="4.7" fill="#ff4a00" stroke="#1a0d08" stroke-width="1.0"/>
<circle cx="261.4" cy="76.5" r="4.7" fill="#ff4a00" stroke="#1a0d08" stroke-width="1.0"/>
<circle cx="265.0" cy="81.7" r="4.7" fill="#ff4a00" stroke="#1a0d08" stroke-width="1.0"/>
<circle cx="260.2" cy="75.4" r="4.7" fill="#ff4a00" stroke="#1a0d08" stroke-width="1.0"/>
<circle cx="294.5" cy="81.9" r="4.7" fill="#ff4a00" stroke="#1a0d08" stroke-width="1.0"/>
<circle cx="289.5" cy="109.7" r="4.7" fill="#ff4a00" stroke="#1a0d08" stroke-width="1.0"/>
<circle cx="255.7" cy="80.7" r="4.7" fill="#ff4a00" stroke="#1a0d08" stroke-width="1.0"/>
<circle cx="253.4" cy="76.1" r="4.7" fill="#ff4a00" stroke="#1a0d08" stroke-width="1.0"/>
<circle cx="260.5" cy="81.5" r="4.7" fill="#ff4a00" stroke="#1a0d08" stroke-width="1.0"/>
<circle cx="292.7" cy="75.5" r="4.7" fill="#ff4a00" stroke="#1a0d08" stroke-width="1.0"/>
<circle cx="280.9" cy="97.4" r="4.7" fill="#ff4a00" stroke="#1a0d08" stroke-width="1.0"/>
<circle cx="300.1" cy="84.8" r="4.7" fill="#ff4a00" stroke="#1a0d08" stroke-width="1.0"/>
<circle cx="255.2" cy="86.0" r="4.7" fill="#ff4a00" stroke="#1a0d08" stroke-width="1.0"/>
<circle cx="257.1" cy="77.5" r="4.7" fill="#ff4a00" stroke="#1a0d08" stroke-width="1.0"/>
<circle cx="298.3" cy="86.2" r="4.7" fill="#ff4a00" stroke="#1a0d08" stroke-width="1.0"/>
<circle cx="294.4" cy="111.7" r="4.7" fill="#ff4a00" stroke="#1a0d08" stroke-width="1.0"/>
<circle cx="277.4" cy="87.5" r="4.7" fill="#ff4a00" stroke="#1a0d08" stroke-width="1.0"/>
<circle cx="295.8" cy="90.4" r="4.7" fill="#ff4a00" stroke="#1a0d08" stroke-width="1.0"/>
<circle cx="257.3" cy="80.8" r="4.7" fill="#ff4a00" stroke="#1a0d08" stroke-width="1.0"/>
<circle cx="260.8" cy="75.0" r="4.7" fill="#ff4a00" stroke="#1a0d08" stroke-width="1.0"/>
<circle cx="290.7" cy="92.7" r="4.7" fill="#ff4a00" stroke="#1a0d08" stroke-width="1.0"/>
<circle cx="303.9" cy="93.0" r="4.7" fill="#ff4a00" stroke="#1a0d08" stroke-width="1.0"/>
<circle cx="255.2" cy="72.0" r="4.7" fill="#ff4a00" stroke="#1a0d08" stroke-width="1.0"/>
<circle cx="292.3" cy="79.6" r="4.7" fill="#ff4a00" stroke="#1a0d08" stroke-width="1.0"/>
<circle cx="286.3" cy="81.8" r="4.7" fill="#ff4a00" stroke="#1a0d08" stroke-width="1.0"/>
<circle cx="285.9" cy="76.1" r="4.7" fill="#ff4a00" stroke="#1a0d08" stroke-width="1.0"/>
<circle cx="283.5" cy="93.3" r="4.7" fill="#ff4a00" stroke="#1a0d08" stroke-width="1.0"/>
<circle cx="259.1" cy="71.6" r="4.7" fill="#ff4a00" stroke="#1a0d08" stroke-width="1.0"/>
<circle cx="280.7" cy="85.0" r="4.7" fill="#ff4a00" stroke="#1a0d08" stroke-width="1.0"/>
<circle cx="283.7" cy="80.3" r="4.7" fill="#ff4a00" stroke="#1a0d08" stroke-width="1.0"/>
<circle cx="306.6" cy="88.1" r="4.7" fill="#ff4a00" stroke="#1a0d08" stroke-width="1.0"/>
<circle cx="260.7" cy="73.2" r="4.7" fill="#ff4a00" stroke="#1a0d08" stroke-width="1.0"/>
<circle cx="256.4" cy="83.2" r="4.7" fill="#ff4a00" stroke="#1a0d08" stroke-width="1.0"/>
<circle cx="259.3" cy="69.9" r="4.7" fill="#ff4a00" stroke="#1a0d08" stroke-width="1.0"/>
<circle cx="305.9" cy="97.5" r="4.7" fill="#ff4a00" stroke="#1a0d08" stroke-width="1.0"/>
<circle cx="285.2" cy="84.5" r="4.7" fill="#ff4a00" stroke="#1a0d08" stroke-width="1.0"/>
<circle cx="299.5" cy="102.2" r="4.7" fill="#ff4a00" stroke="#1a0d08" stroke-width="1.0"/>
<circle cx="284.9" cy="67.6" r="4.7" fill="#ff4a00" stroke="#1a0d08" stroke-width="1.0"/>
<circle cx="298.4" cy="105.6" r="4.7" fill="#ff4a00" stroke="#1a0d08" stroke-width="1.0"/>
<circle cx="300.0" cy="95.0" r="4.7" fill="#ff4a00" stroke="#1a0d08" stroke-width="1.0"/>
<circle cx="297.5" cy="87.8" r="4.7" fill="#ff4a00" stroke="#1a0d08" stroke-width="1.0"/>
<circle cx="300.4" cy="107.9" r="4.7" fill="#ff4a00" stroke="#1a0d08" stroke-width="1.0"/>
<circle cx="266.9" cy="87.2" r="4.7" fill="#ff4a00" stroke="#1a0d08" stroke-width="1.0"/>
<circle cx="284.7" cy="76.0" r="4.7" fill="#ff4a00" stroke="#1a0d08" stroke-width="1.0"/>
<circle cx="284.7" cy="102.8" r="4.7" fill="#ff4a00" stroke="#1a0d08" stroke-width="1.0"/>
<circle cx="291.3" cy="76.2" r="4.7" fill="#ff4a00" stroke="#1a0d08" stroke-width="1.0"/>
<circle cx="252.1" cy="72.0" r="4.7" fill="#ff4a00" stroke="#1a0d08" stroke-width="1.0"/>
<circle cx="253.4" cy="72.0" r="4.7" fill="#ff4a00" stroke="#1a0d08" stroke-width="1.0"/>
<circle cx="263.0" cy="85.7" r="4.7" fill="#ff4a00" stroke="#1a0d08" stroke-width="1.0"/>
<circle cx="283.6" cy="88.5" r="4.7" fill="#ff4a00" stroke="#1a0d08" stroke-width="1.0"/>
<circle cx="286.5" cy="74.9" r="4.7" fill="#ff4a00" stroke="#1a0d08" stroke-width="1.0"/>
<circle cx="283.5" cy="97.0" r="4.7" fill="#ff4a00" stroke="#1a0d08" stroke-width="1.0"/>
<circle cx="280.4" cy="87.4" r="4.7" fill="#ff4a00" stroke="#1a0d08" stroke-width="1.0"/>
<circle cx="292.7" cy="81.6" r="4.7" fill="#ff4a00" stroke="#1a0d08" stroke-width="1.0"/>
<circle cx="301.7" cy="108.3" r="4.7" fill="#ff4a00" stroke="#1a0d08" stroke-width="1.0"/>
<circle cx="283.5" cy="72.1" r="4.7" fill="#ff4a00" stroke="#1a0d08" stroke-width="1.0"/>
<circle cx="268.7" cy="82.1" r="4.7" fill="#ff4a00" stroke="#1a0d08" stroke-width="1.0"/>
<circle cx="289.4" cy="78.7" r="4.7" fill="#ff4a00" stroke="#1a0d08" stroke-width="1.0"/>
<circle cx="276.4" cy="80.6" r="4.7" fill="#ff4a00" stroke="#1a0d08" stroke-width="1.0"/>
<circle cx="283.8" cy="67.3" r="4.7" fill="#ff4a00" stroke="#1a0d08" stroke-width="1.0"/>
<circle cx="290.4" cy="108.8" r="4.7" fill="#ff4a00" stroke="#1a0d08" stroke-width="1.0"/>
<circle cx="276.5" cy="78.9" r="4.7" fill="#ff4a00" stroke="#1a0d08" stroke-width="1.0"/>
<circle cx="298.2" cy="103.1" r="4.7" fill="#ff4a00" stroke="#1a0d08" stroke-width="1.0"/>
<circle cx="290.7" cy="85.0" r="4.7" fill="#ff4a00" stroke="#1a0d08" stroke-width="1.0"/>
<circle cx="287.5" cy="84.1" r="4.7" fill="#ff4a00" stroke="#1a0d08" stroke-width="1.0"/>
<circle cx="285.6" cy="65.5" r="4.7" fill="#ff4a00" stroke="#1a0d08" stroke-width="1.0"/>
<circle cx="289.9" cy="94.0" r="4.7" fill="#ff4a00" stroke="#1a0d08" stroke-width="1.0"/>
<circle cx="282.6" cy="74.3" r="4.7" fill="#ff4a00" stroke="#1a0d08" stroke-width="1.0"/>
<circle cx="259.4" cy="81.6" r="4.7" fill="#ff4a00" stroke="#1a0d08" stroke-width="1.0"/>
<circle cx="279.5" cy="72.1" r="4.7" fill="#ff4a00" stroke="#1a0d08" stroke-width="1.0"/>
<circle cx="302.1" cy="102.5" r="4.7" fill="#ff4a00" stroke="#1a0d08" stroke-width="1.0"/>
<circle cx="292.9" cy="89.0" r="4.7" fill="#ff4a00" stroke="#1a0d08" stroke-width="1.0"/>
<circle cx="254.8" cy="69.4" r="4.7" fill="#ff4a00" stroke="#1a0d08" stroke-width="1.0"/>
<circle cx="292.5" cy="96.1" r="4.7" fill="#ff4a00" stroke="#1a0d08" stroke-width="1.0"/>
<circle cx="297.8" cy="82.0" r="4.7" fill="#ff4a00" stroke="#1a0d08" stroke-width="1.0"/>
<circle cx="302.2" cy="106.3" r="4.7" fill="#ff4a00" stroke="#1a0d08" stroke-width="1.0"/>
<circle cx="287.9" cy="98.2" r="4.7" fill="#ff4a00" stroke="#1a0d08" stroke-width="1.0"/>
<circle cx="306.1" cy="100.3" r="4.7" fill="#ff4a00" stroke="#1a0d08" stroke-width="1.0"/>
<circle cx="264.9" cy="79.9" r="4.7" fill="#ff4a00" stroke="#1a0d08" stroke-width="1.0"/>
<circle cx="299.7" cy="109.9" r="4.7" fill="#ff4a00" stroke="#1a0d08" stroke-width="1.0"/>
<circle cx="296.3" cy="81.1" r="4.7" fill="#ff4a00" stroke="#1a0d08" stroke-width="1.0"/>
<circle cx="268.5" cy="79.9" r="4.7" fill="#ff4a00" stroke="#1a0d08" stroke-width="1.0"/>
<circle cx="262.4" cy="78.0" r="4.7" fill="#ff4a00" stroke="#1a0d08" stroke-width="1.0"/>
<circle cx="259.6" cy="86.0" r="4.7" fill="#ff4a00" stroke="#1a0d08" stroke-width="1.0"/>
<circle cx="280.5" cy="74.5" r="4.7" fill="#ff4a00" stroke="#1a0d08" stroke-width="1.0"/>
<circle cx="281.9" cy="68.1" r="4.7" fill="#ff4a00" stroke="#1a0d08" stroke-width="1.0"/>
<circle cx="261.9" cy="85.1" r="4.7" fill="#ff4a00" stroke="#1a0d08" stroke-width="1.0"/>
<circle cx="287.0" cy="90.9" r="4.7" fill="#ff4a00" stroke="#1a0d08" stroke-width="1.0"/>
<circle cx="281.7" cy="82.1" r="4.7" fill="#ff4a00" stroke="#1a0d08" stroke-width="1.0"/>
<circle cx="255.1" cy="73.7" r="4.7" fill="#ff4a00" stroke="#1a0d08" stroke-width="1.0"/>
<circle cx="266.4" cy="87.7" r="4.7" fill="#ff4a00" stroke="#1a0d08" stroke-width="1.0"/>
<circle cx="288.5" cy="101.3" r="4.7" fill="#ff4a00" stroke="#1a0d08" stroke-width="1.0"/>
<circle cx="263.8" cy="90.0" r="4.7" fill="#ff4a00" stroke="#1a0d08" stroke-width="1.0"/>
<circle cx="237.3" cy="87.9" r="4.7" fill="#ff4a00" stroke="#1a0d08" stroke-width="1.0"/>
<circle cx="243.5" cy="76.3" r="4.7" fill="#ff4a00" stroke="#1a0d08" stroke-width="1.0"/>
<circle cx="244.0" cy="83.3" r="4.7" fill="#ff4a00" stroke="#1a0d08" stroke-width="1.0"/>
<circle cx="244.5" cy="92.0" r="4.7" fill="#ff4a00" stroke="#1a0d08" stroke-width="1.0"/>
<circle cx="244.5" cy="93.6" r="4.7" fill="#ff4a00" stroke="#1a0d08" stroke-width="1.0"/>
<circle cx="244.5" cy="95.3" r="4.7" fill="#ff4a00" stroke="#1a0d08" stroke-width="1.0"/>
<circle cx="246.1" cy="90.8" r="4.7" fill="#ff4a00" stroke="#1a0d08" stroke-width="1.0"/>
<circle cx="252.1" cy="68.2" r="4.7" fill="#ff4a00" stroke="#1a0d08" stroke-width="1.0"/>
<circle cx="258.5" cy="67.7" r="4.7" fill="#ff4a00" stroke="#1a0d08" stroke-width="1.0"/>
<circle cx="270.6" cy="72.8" r="4.7" fill="#ff4a00" stroke="#1a0d08" stroke-width="1.0"/>
<circle cx="281.3" cy="64.2" r="4.7" fill="#ff4a00" stroke="#1a0d08" stroke-width="1.0"/>
<circle cx="286.8" cy="60.9" r="4.7" fill="#ff4a00" stroke="#1a0d08" stroke-width="1.0"/>
<circle cx="293.0" cy="75.9" r="4.7" fill="#ff4a00" stroke="#1a0d08" stroke-width="1.0"/>
<circle cx="263.9" cy="93.0" r="4.7" fill="#ff4a00" stroke="#1a0d08" stroke-width="1.0"/>
<circle cx="263.9" cy="95.5" r="4.7" fill="#ff4a00" stroke="#1a0d08" stroke-width="1.0"/>
<circle cx="263.9" cy="97.8" r="4.7" fill="#ff4a00" stroke="#1a0d08" stroke-width="1.0"/>
<circle cx="277.4" cy="93.4" r="4.7" fill="#ff4a00" stroke="#1a0d08" stroke-width="1.0"/>
<circle cx="312.3" cy="73.6" r="4.7" fill="#ff4a00" stroke="#1a0d08" stroke-width="1.0"/>
<circle cx="304.7" cy="78.5" r="4.7" fill="#ff4a00" stroke="#1a0d08" stroke-width="1.0"/>
<circle cx="312.9" cy="86.1" r="4.7" fill="#ff4a00" stroke="#1a0d08" stroke-width="1.0"/>
<circle cx="298.9" cy="88.5" r="4.7" fill="#ff4a00" stroke="#1a0d08" stroke-width="1.0"/>
<circle cx="303.0" cy="95.2" r="4.7" fill="#ff4a00" stroke="#1a0d08" stroke-width="1.0"/>
<circle cx="284.8" cy="119.7" r="4.7" fill="#ff4a00" stroke="#1a0d08" stroke-width="1.0"/>
<circle cx="272.9" cy="110.4" r="4.7" fill="#ff4a00" stroke="#1a0d08" stroke-width="1.0"/>
<circle cx="308.9" cy="112.8" r="4.7" fill="#ff4a00" stroke="#1a0d08" stroke-width="1.0"/>
<circle cx="293.8" cy="107.2" r="4.7" fill="#ff4a00" stroke="#1a0d08" stroke-width="1.0"/>
<circle cx="308.7" cy="105.6" r="4.7" fill="#ff4a00" stroke="#1a0d08" stroke-width="1.0"/>
<circle cx="299.7" cy="112.8" r="4.7" fill="#ff4a00" stroke="#1a0d08" stroke-width="1.0"/>
<circle cx="295.5" cy="115.3" r="4.7" fill="#ff4a00" stroke="#1a0d08" stroke-width="1.0"/>
<circle cx="280.4" cy="104.4" r="4.7" fill="#ff4a00" stroke="#1a0d08" stroke-width="1.0"/>
<circle cx="302.4" cy="96.3" r="4.7" fill="#ff4a00" stroke="#1a0d08" stroke-width="1.0"/>
<circle cx="264.5" cy="81.8" r="4.7" fill="#ff4a00" stroke="#1a0d08" stroke-width="1.0"/>
<circle cx="328.8" cy="85.7" r="4.7" fill="#ff4a00" stroke="#1a0d08" stroke-width="1.0"/>
<circle cx="332.5" cy="88.6" r="4.7" fill="#ff4a00" stroke="#1a0d08" stroke-width="1.0"/>
<circle cx="328.5" cy="102.3" r="4.7" fill="#ff4a00" stroke="#1a0d08" stroke-width="1.0"/>
<circle cx="332.8" cy="102.3" r="4.7" fill="#ff4a00" stroke="#1a0d08" stroke-width="1.0"/>
</g>
</g>
<g id="legend">
<rect x="427.1" y="6.7" width="280.3" height="75.0" fill="#fff" stroke="#0c0706" stroke-width="1.4"/>
<circle cx="441.5" cy="20" r="5.2" fill="none" stroke="#231815" stroke-width="1"/>
<path d="M441.5 39.6 L447.4 49.8 L435.6 49.8 Z" fill="none" stroke="#231815" stroke-width="1"/>
<rect x="437.6" y="65.6" width="7.4" height="7.4" fill="none" stroke="#231815" stroke-width="0.9"/>
<text x="456.0" y="24.9" font-size="13.75" class="k">Foraminiferal calcite (Hedbergella)</text>
<text x="456.0" y="49.7" font-size="13.75" class="k">Foraminiferal calcite (globular planktics)</text>
<text x="456.0" y="74.1" font-size="13.75" class="k">Vertebrate phosphate</text>
</g>
<g id="notes" font-size="13.75">
<text x="377.2" y="113.6" class="k">Highest temperature in modern WPWP</text>
<text x="377.6" y="199.8" class="k">Mid-latitude temperature in modern Pacific 37˚N</text>
<text x="377.6" y="293.8" class="k">Low latitude temperature in modern Pacific 60˚N</text>
</g>
<g id="axes" stroke="#231815" fill="none">
<path d="M57.30 6.70v-4.0M57.30 364.20v4.0M73.76 6.70v-4.0M73.76 364.20v4.0M90.22 6.70v-7.5M90.22 364.20v7.5M106.67 6.70v-4.0M106.67 364.20v4.0M123.13 6.70v-4.0M123.13 364.20v4.0M139.59 6.70v-4.0M139.59 364.20v4.0M156.05 6.70v-4.0M156.05 364.20v4.0M172.51 6.70v-7.5M172.51 364.20v7.5M188.97 6.70v-4.0M188.97 364.20v4.0M205.42 6.70v-4.0M205.42 364.20v4.0M221.88 6.70v-4.0M221.88 364.20v4.0M238.34 6.70v-4.0M238.34 364.20v4.0M254.80 6.70v-7.5M254.80 364.20v7.5M271.26 6.70v-4.0M271.26 364.20v4.0M287.72 6.70v-4.0M287.72 364.20v4.0M304.17 6.70v-4.0M304.17 364.20v4.0M320.63 6.70v-4.0M320.63 364.20v4.0M337.09 6.70v-7.5M337.09 364.20v7.5M353.55 6.70v-4.0M353.55 364.20v4.0M370.01 6.70v-4.0M370.01 364.20v4.0M386.46 6.70v-4.0M386.46 364.20v4.0M402.92 6.70v-4.0M402.92 364.20v4.0M419.38 6.70v-7.5M419.38 364.20v7.5M435.84 6.70v-4.0M435.84 364.20v4.0M452.30 6.70v-4.0M452.30 364.20v4.0M468.76 6.70v-4.0M468.76 364.20v4.0M485.21 6.70v-4.0M485.21 364.20v4.0M501.67 6.70v-7.5M501.67 364.20v7.5M518.13 6.70v-4.0M518.13 364.20v4.0M534.59 6.70v-4.0M534.59 364.20v4.0M551.05 6.70v-4.0M551.05 364.20v4.0M567.51 6.70v-4.0M567.51 364.20v4.0M583.96 6.70v-7.5M583.96 364.20v7.5M600.42 6.70v-4.0M600.42 364.20v4.0M616.88 6.70v-4.0M616.88 364.20v4.0M633.34 6.70v-4.0M633.34 364.20v4.0M649.80 6.70v-4.0M649.80 364.20v4.0M666.25 6.70v-7.5M666.25 364.20v7.5M682.71 6.70v-4.0M682.71 364.20v4.0M699.17 6.70v-4.0M699.17 364.20v4.0M57.30 331.70h-7.0M707.40 331.70h7.0M57.30 324.48h-3.8M707.40 324.48h3.8M57.30 317.26h-3.8M707.40 317.26h3.8M57.30 310.03h-3.8M707.40 310.03h3.8M57.30 302.81h-3.8M707.40 302.81h3.8M57.30 295.59h-7.0M707.40 295.59h7.0M57.30 288.37h-3.8M707.40 288.37h3.8M57.30 281.14h-3.8M707.40 281.14h3.8M57.30 273.92h-3.8M707.40 273.92h3.8M57.30 266.70h-3.8M707.40 266.70h3.8M57.30 259.48h-7.0M707.40 259.48h7.0M57.30 252.26h-3.8M707.40 252.26h3.8M57.30 245.03h-3.8M707.40 245.03h3.8M57.30 237.81h-3.8M707.40 237.81h3.8M57.30 230.59h-3.8M707.40 230.59h3.8M57.30 223.37h-7.0M707.40 223.37h7.0M57.30 216.14h-3.8M707.40 216.14h3.8M57.30 208.92h-3.8M707.40 208.92h3.8M57.30 201.70h-3.8M707.40 201.70h3.8M57.30 194.48h-3.8M707.40 194.48h3.8M57.30 187.26h-7.0M707.40 187.26h7.0M57.30 180.03h-3.8M707.40 180.03h3.8M57.30 172.81h-3.8M707.40 172.81h3.8M57.30 165.59h-3.8M707.40 165.59h3.8M57.30 158.37h-3.8M707.40 158.37h3.8M57.30 151.14h-7.0M707.40 151.14h7.0M57.30 143.92h-3.8M707.40 143.92h3.8M57.30 136.70h-3.8M707.40 136.70h3.8M57.30 129.48h-3.8M707.40 129.48h3.8M57.30 122.26h-3.8M707.40 122.26h3.8M57.30 115.03h-7.0M707.40 115.03h7.0M57.30 107.81h-3.8M707.40 107.81h3.8M57.30 100.59h-3.8M707.40 100.59h3.8M57.30 93.37h-3.8M707.40 93.37h3.8M57.30 86.14h-3.8M707.40 86.14h3.8M57.30 78.92h-7.0M707.40 78.92h7.0M57.30 71.70h-3.8M707.40 71.70h3.8M57.30 64.48h-3.8M707.40 64.48h3.8M57.30 57.26h-3.8M707.40 57.26h3.8M57.30 50.03h-3.8M707.40 50.03h3.8M57.30 42.81h-7.0M707.40 42.81h7.0M57.30 35.59h-3.8M707.40 35.59h3.8M57.30 28.37h-3.8M707.40 28.37h3.8M57.30 21.14h-3.8M707.40 21.14h3.8M57.30 13.92h-3.8M707.40 13.92h3.8M57.30 6.70h-7.0M707.40 6.70h7.0" stroke-width="0.9"/>
<path d="M57.30 364.2V6.70H707.40V364.2" stroke="#0c0706" stroke-width="1.9"/>
<path d="M57.30 331.70H707.40" stroke-width="1.2"/>
<path d="M50.30 364.2H714.40" stroke-width="1.5"/>
<path d="M107.50 331.70V364.2M202.13 331.70V364.2M224.35 331.70V364.2M253.15 331.70V364.2M286.89 331.70V364.2M341.20 331.70V364.2M444.07 331.70V364.2M542.82 331.70V364.2M579.03 331.70V364.2M607.83 331.70V364.2M664.61 331.70V364.2" stroke-width="0.9"/>
</g>
<g id="stages" font-size="13.8" font-weight="bold" text-anchor="middle">
<text x="84.2" y="353.5">Maa.</text>
<text x="154.8" y="353.5">Campanian</text>
<text x="213.2" y="353.5">Sa.</text>
<text x="238.8" y="353.5">Co.</text>
<text x="270.0" y="353.5">Tur.</text>
<text x="314.0" y="353.5">Cenom.</text>
<text x="392.6" y="353.5">Albian</text>
<text x="493.4" y="353.5">Aptian</text>
<text x="560.9" y="353.5">Barr.</text>
<text x="593.4" y="353.5">Ha.</text>
<text x="636.2" y="353.5">Valang.</text>
<text x="686.0" y="353.5">Berri.</text>
</g>
<g id="xt" font-size="15.8" text-anchor="middle">
<text x="90.2" y="389.1">70</text>
<text x="172.5" y="389.1">80</text>
<text x="254.8" y="389.1">90</text>
<text x="337.1" y="389.1">100</text>
<text x="419.4" y="389.1">110</text>
<text x="501.7" y="389.1">120</text>
<text x="584.0" y="389.1">130</text>
<text x="666.3" y="389.1">140</text>
</g>
<g id="yt" font-size="15.8" text-anchor="end">
<text x="44.2" y="337.7">0</text>
<text x="44.2" y="301.6">5</text>
<text x="44.2" y="265.5">10</text>
<text x="44.2" y="229.4">15</text>
<text x="44.2" y="193.3">20</text>
<text x="44.2" y="157.1">25</text>
<text x="44.2" y="121.0">30</text>
<text x="44.2" y="84.9">35</text>
<text x="44.2" y="48.8">40</text>
<text x="44.2" y="12.7">45</text>
</g>
<text x="382" y="414" font-size="13.8" text-anchor="middle">Age (Ma)</text>
<text transform="translate(9.8 164.5) rotate(-90)" font-size="13.8" text-anchor="middle">Temperature (°C)</text>
<g id="colorbar">
<rect x="723.3" y="168.8" width="10.2" height="162.8" fill="url(#cb)" stroke="#231815" stroke-width="1"/>
<path d="M733.5 168.80h6M733.5 195.93h6M733.5 223.07h6M733.5 250.20h6M733.5 277.33h6M733.5 304.47h6M733.5 331.60h6" stroke="#231815" stroke-width="0.9" fill="none"/>
<text x="763.5" y="174.7" font-size="15.8" text-anchor="end">0</text>
<text x="763.5" y="201.8" font-size="15.8" text-anchor="end">15</text>
<text x="763.5" y="229.0" font-size="15.8" text-anchor="end">30</text>
<text x="763.5" y="256.1" font-size="15.8" text-anchor="end">45</text>
<text x="763.5" y="283.2" font-size="15.8" text-anchor="end">60</text>
<text x="763.5" y="310.4" font-size="15.8" text-anchor="end">75</text>
<text x="763.5" y="337.5" font-size="15.8" text-anchor="end">90</text>
<text transform="translate(780 253.3) rotate(-90)" font-size="15.6" text-anchor="middle">Paleolatitue (˚)</text>
</g>
</svg></body></html>
